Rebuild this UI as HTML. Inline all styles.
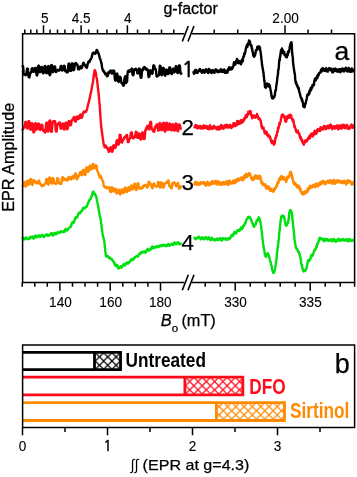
<!DOCTYPE html>
<html><head><meta charset="utf-8"><style>
html,body{margin:0;padding:0;background:#fff;width:357px;height:477px;overflow:hidden}
svg{display:block}
</style></head><body>
<svg width="357" height="477" viewBox="0 0 357 477">
<rect width="100%" height="100%" fill="#fff"/>
<g fill="none" stroke-linejoin="round" stroke-linecap="round">
<path d="M22.6,66.3 L22.9,65.9 L23.1,66.7 L23.4,69.3 L23.6,72.2 L23.9,74.6 L24.1,74.1 L24.4,74.3 L24.6,74.0 L24.9,74.4 L25.1,74.2 L25.4,74.7 L25.6,75.2 L25.9,75.0 L26.1,74.6 L26.4,74.8 L26.6,71.7 L26.9,69.8 L27.1,68.8 L27.4,69.4 L27.6,68.9 L27.9,68.7 L28.1,71.4 L28.4,74.7 L28.6,76.8 L28.9,77.1 L29.1,77.0 L29.4,77.5 L29.6,76.7 L29.9,74.9 L30.1,73.2 L30.4,73.3 L30.6,73.3 L30.9,72.4 L31.1,72.3 L31.4,70.9 L31.6,68.9 L31.9,68.6 L32.1,68.2 L32.4,68.2 L32.6,68.2 L32.9,68.9 L33.1,70.9 L33.4,71.9 L33.6,71.9 L33.9,71.3 L34.1,71.7 L34.4,71.6 L34.6,69.7 L34.9,68.6 L35.1,67.9 L35.4,67.9 L35.6,68.0 L35.9,68.2 L36.1,70.6 L36.4,73.7 L36.6,75.0 L36.9,74.7 L37.1,75.5 L37.4,74.7 L37.6,73.0 L37.9,70.3 L38.1,66.5 L38.4,65.8 L38.6,65.6 L38.9,65.9 L39.1,66.0 L39.4,68.8 L39.6,70.6 L39.9,71.4 L40.1,72.2 L40.4,71.9 L40.6,71.4 L40.9,70.3 L41.1,69.0 L41.4,67.2 L41.6,67.7 L41.9,67.7 L42.1,67.1 L42.4,68.5 L42.6,70.7 L42.9,73.0 L43.1,73.3 L43.4,73.3 L43.6,72.8 L43.9,72.6 L44.1,70.3 L44.4,68.5 L44.6,66.3 L44.9,66.6 L45.1,66.0 L45.4,66.4 L45.6,67.0 L45.9,69.9 L46.1,72.7 L46.4,73.2 L46.6,73.2 L46.9,73.1 L47.1,72.8 L47.4,70.4 L47.6,68.2 L47.9,66.4 L48.1,66.8 L48.4,66.0 L48.6,66.4 L48.9,68.8 L49.1,72.1 L49.4,74.6 L49.6,74.7 L49.9,75.3 L50.1,74.9 L50.4,73.9 L50.6,69.8 L50.9,66.2 L51.1,65.4 L51.4,65.3 L51.6,66.1 L51.9,65.1 L52.1,67.8 L52.4,70.0 L52.6,72.3 L52.9,71.7 L53.1,71.7 L53.4,71.7 L53.6,70.8 L53.9,69.0 L54.1,67.1 L54.4,66.4 L54.6,66.3 L54.9,66.8 L55.1,66.9 L55.4,68.3 L55.6,71.0 L55.9,72.0 L56.1,71.3 L56.4,71.7 L56.6,71.2 L56.9,70.9 L57.1,70.6 L57.4,70.2 L57.6,70.1 L57.9,70.1 L58.1,69.7 L58.4,70.3 L58.6,69.9 L58.9,70.7 L59.1,70.3 L59.4,70.0 L59.6,69.9 L59.9,70.2 L60.1,68.8 L60.4,67.5 L60.6,66.4 L60.9,65.9 L61.1,66.7 L61.4,65.9 L61.6,67.4 L61.9,69.0 L62.1,70.6 L62.4,70.4 L62.6,69.9 L62.9,70.1 L63.1,70.0 L63.4,68.5 L63.6,66.6 L63.9,66.2 L64.1,65.7 L64.3,65.8 L64.6,66.0 L64.8,67.2 L65.1,68.8 L65.3,71.3 L65.6,71.0 L65.8,71.1 L66.1,70.6 L66.3,71.3 L66.6,71.7 L66.8,72.5 L67.1,71.8 L67.3,72.0 L67.6,71.9 L67.8,72.1 L68.1,68.9 L68.3,65.5 L68.6,63.7 L68.8,63.9 L69.1,63.6 L69.3,64.2 L69.6,65.0 L69.8,67.7 L70.1,70.9 L70.3,70.8 L70.6,70.5 L70.8,70.5 L71.1,70.9 L71.3,68.2 L71.6,65.2 L71.8,63.5 L72.1,64.0 L72.3,63.5 L72.6,63.6 L72.8,65.4 L73.1,67.6 L73.3,69.6 L73.6,70.2 L73.8,69.3 L74.1,69.8 L74.3,68.5 L74.6,66.0 L74.8,63.7 L75.1,63.8 L75.3,63.6 L75.6,63.8 L75.8,63.0 L76.1,63.9 L76.3,64.0 L76.6,64.2 L76.8,64.6 L77.1,64.2 L77.3,64.5 L77.6,65.2 L77.8,67.3 L78.1,69.3 L78.3,69.1 L78.6,69.3 L78.8,69.4 L79.1,69.4 L79.3,68.6 L79.6,67.4 L79.8,66.8 L80.1,67.2 L80.3,66.4 L80.6,66.2 L80.8,67.0 L81.1,67.4 L81.3,68.4 L81.6,68.1 L81.8,67.3 L82.1,67.5 L82.3,66.7 L82.6,65.2 L82.8,64.4 L83.1,63.8 L83.3,63.0 L83.6,62.8 L83.8,63.5 L84.1,63.3 L84.3,64.7 L84.6,64.8 L84.8,65.0 L85.1,65.4 L85.3,66.0 L85.6,65.5 L85.8,66.2 L86.1,67.3 L86.3,67.1 L86.6,67.1 L86.8,67.8 L87.1,67.0 L87.3,65.9 L87.6,64.6 L87.8,63.4 L88.1,62.8 L88.3,62.2 L88.6,61.7 L88.8,61.2 L89.1,61.8 L89.3,62.2 L89.6,61.7 L89.8,61.1 L90.1,60.6 L90.3,59.4 L90.6,59.4 L90.8,59.2 L91.1,59.1 L91.3,58.1 L91.6,57.4 L91.8,56.6 L92.1,55.7 L92.3,54.9 L92.6,53.2 L92.8,53.1 L93.1,52.9 L93.3,52.7 L93.6,52.5 L93.8,53.2 L94.1,52.8 L94.3,53.1 L94.6,53.2 L94.8,53.5 L95.1,53.9 L95.3,53.2 L95.6,53.6 L95.8,53.1 L96.1,52.2 L96.3,50.9 L96.6,50.1 L96.8,50.4 L97.1,50.1 L97.3,51.1 L97.6,51.3 L97.8,52.2 L98.1,52.4 L98.3,52.8 L98.6,53.7 L98.8,54.4 L99.1,55.5 L99.3,56.0 L99.6,57.3 L99.8,58.3 L100.1,59.2 L100.3,59.4 L100.6,59.7 L100.8,60.8 L101.1,61.8 L101.3,63.0 L101.6,63.6 L101.8,65.6 L102.1,67.5 L102.3,68.4 L102.6,69.4 L102.8,70.1 L103.1,70.8 L103.3,71.1 L103.6,70.6 L103.8,71.3 L104.1,72.2 L104.3,72.1 L104.6,72.3 L104.8,73.3 L105.1,73.8 L105.3,74.3 L105.6,73.2 L105.8,73.9 L106.1,73.9 L106.3,74.0 L106.6,74.9 L106.8,76.0 L107.1,76.3 L107.3,76.0 L107.6,76.1 L107.8,75.8 L108.1,74.2 L108.3,72.5 L108.6,72.4 L108.8,72.4 L109.1,72.0 L109.3,73.0 L109.6,72.3 L109.8,71.8 L110.1,70.7 L110.3,70.6 L110.6,70.7 L110.8,70.6 L111.1,70.7 L111.3,71.6 L111.6,72.4 L111.8,73.6 L112.1,73.3 L112.3,72.9 L112.6,73.3 L112.8,72.7 L113.1,71.6 L113.3,70.4 L113.6,70.7 L113.8,71.2 L114.1,70.8 L114.3,71.9 L114.6,75.9 L114.8,78.7 L115.1,80.3 L115.3,80.1 L115.6,80.6 L115.8,80.3 L116.1,78.0 L116.3,75.0 L116.6,73.6 L116.8,73.8 L117.1,73.6 L117.3,74.1 L117.6,75.3 L117.8,78.3 L118.1,81.3 L118.3,81.0 L118.6,81.9 L118.8,81.4 L119.1,81.5 L119.3,79.3 L119.6,78.0 L119.8,76.7 L120.1,77.3 L120.3,77.0 L120.6,77.3 L120.8,78.8 L121.1,80.7 L121.3,82.3 L121.6,83.1 L121.8,83.4 L122.1,82.8 L122.3,83.0 L122.6,84.2 L122.8,84.9 L123.1,85.6 L123.3,85.2 L123.6,85.3 L123.8,85.4 L124.1,82.8 L124.3,80.0 L124.6,78.0 L124.8,77.3 L125.1,77.0 L125.3,76.2 L125.6,77.3 L125.8,80.2 L126.1,83.0 L126.3,82.5 L126.6,81.8 L126.8,81.8 L127.1,81.8 L127.3,77.2 L127.6,73.3 L127.8,71.3 L128.1,71.4 L128.3,71.3 L128.6,70.5 L128.8,71.1 L129.1,71.5 L129.3,71.8 L129.6,71.7 L129.8,71.7 L130.1,70.9 L130.3,70.8 L130.6,69.7 L130.8,69.4 L131.1,69.4 L131.3,69.4 L131.6,68.8 L131.8,68.6 L132.1,71.0 L132.3,73.2 L132.6,74.6 L132.8,75.0 L133.1,75.2 L133.3,75.3 L133.6,74.4 L133.8,71.8 L134.1,69.6 L134.3,69.3 L134.6,69.6 L134.8,70.0 L135.1,69.4 L135.3,69.8 L135.6,69.4 L135.8,68.7 L136.1,69.2 L136.3,69.3 L136.6,69.4 L136.8,69.7 L137.1,71.9 L137.3,73.2 L137.6,72.7 L137.8,72.7 L138.1,73.4 L138.3,72.3 L138.6,70.7 L138.8,69.6 L139.1,68.6 L139.3,68.9 L139.6,68.8 L139.8,68.9 L140.1,71.9 L140.3,75.3 L140.6,77.3 L140.8,77.8 L141.1,77.7 L141.3,77.8 L141.6,75.9 L141.8,73.2 L142.1,69.9 L142.3,69.5 L142.6,69.9 L142.8,70.2 L143.1,69.9 L143.3,68.5 L143.6,67.6 L143.8,67.7 L144.1,67.6 L144.3,67.7 L144.6,67.0 L144.8,68.1 L145.1,68.2 L145.3,68.6 L145.6,68.6 L145.8,69.3 L146.1,69.2 L146.3,68.5 L146.6,69.1 L146.8,69.9 L147.1,69.4 L147.3,69.4 L147.6,69.4 L147.8,70.2 L148.1,72.0 L148.3,74.7 L148.6,77.0 L148.8,76.5 L149.1,76.9 L149.3,76.6 L149.6,75.3 L149.8,73.1 L150.1,70.5 L150.3,70.2 L150.6,71.0 L150.8,71.0 L151.1,70.6 L151.3,72.1 L151.6,73.4 L151.8,73.5 L152.1,73.9 L152.3,73.9 L152.6,73.2 L152.8,71.1 L153.1,68.6 L153.3,65.8 L153.6,65.3 L153.8,65.9 L154.1,65.9 L154.3,65.8 L154.6,67.2 L154.8,68.4 L155.1,69.1 L155.3,68.8 L155.6,69.2 L155.8,69.3 L156.1,71.6 L156.3,73.8 L156.6,76.3 L156.8,76.4 L157.1,75.8 L157.3,76.2 L157.6,76.2 L157.8,75.1 L158.1,75.3 L158.3,75.3 L158.6,75.1 L158.8,75.2 L159.1,74.3 L159.3,71.4 L159.6,68.3 L159.8,65.8 L160.1,66.5 L160.3,65.9 L160.6,66.5 L160.8,68.6 L161.1,72.2 L161.3,74.8 L161.6,74.8 L161.8,75.3 L162.1,74.4 L162.3,73.8 L162.6,72.0 L162.8,69.4 L163.1,67.9 L163.3,68.7 L163.6,68.0 L163.8,68.6 L164.1,71.1 L164.3,73.0 L164.6,74.9 L164.8,75.2 L165.1,75.8 L165.3,75.6 L165.6,74.2 L165.8,72.5 L166.1,69.8 L166.3,69.6 L166.6,69.4 L166.8,70.2 L167.1,70.2 L167.3,71.4 L167.6,72.7 L167.8,74.1 L168.1,73.5 L168.3,73.3 L168.6,73.6 L168.8,72.3 L169.1,70.1 L169.3,67.5 L169.6,68.3 L169.8,68.0 L170.1,67.4 L170.3,68.8 L170.6,71.2 L170.8,73.4 L171.1,73.2 L171.3,73.6 L171.6,73.7 L171.8,74.0 L172.1,72.0 L172.3,69.8 L172.6,69.4 L172.8,69.4 L173.1,68.9 L173.3,68.5 L173.6,69.9 L173.8,71.1 L174.1,72.6 L174.3,71.7 L174.6,72.2 L174.8,72.0 L175.1,71.6 L175.3,70.1 L175.6,67.5 L175.8,66.1 L176.1,66.2 L176.3,66.9 L176.6,66.6 L176.8,68.0 L177.1,70.9 L177.3,72.6 L177.6,73.1 L177.8,73.1 L178.1,72.4 L178.3,72.1 L178.6,69.3 L178.8,66.3 L179.1,65.4 L179.3,65.6 L179.6,65.5 L179.8,65.6 L180.1,68.1 L180.3,71.1 L180.6,73.6 L180.8,73.7 L181.1,73.5 L181.3,73.5" stroke="#000" stroke-width="2.4"/>
<path d="M193.5,72.7 L193.8,71.7 L194.0,73.8 L194.2,71.5 L194.5,72.2 L194.8,72.2 L195.0,70.8 L195.2,70.0 L195.5,72.7 L195.8,72.7 L196.0,70.2 L196.2,69.9 L196.5,70.7 L196.8,71.2 L197.0,72.4 L197.2,72.5 L197.5,72.9 L197.8,71.1 L198.0,72.3 L198.2,71.8 L198.5,71.2 L198.8,70.7 L199.0,70.5 L199.2,70.4 L199.5,69.2 L199.8,69.4 L200.0,69.1 L200.2,70.8 L200.5,70.6 L200.8,70.3 L201.0,71.6 L201.2,71.3 L201.5,72.0 L201.8,72.8 L202.0,71.1 L202.2,71.7 L202.5,70.2 L202.8,72.3 L203.0,71.3 L203.2,70.0 L203.5,70.2 L203.8,70.2 L204.0,70.6 L204.2,71.3 L204.5,72.9 L204.8,71.8 L205.0,71.2 L205.2,71.5 L205.5,70.5 L205.8,71.4 L206.0,69.2 L206.2,69.9 L206.5,70.0 L206.8,69.6 L207.0,71.8 L207.2,70.9 L207.5,71.7 L207.8,71.0 L208.0,73.1 L208.2,71.9 L208.5,72.4 L208.8,70.3 L209.0,69.0 L209.2,69.8 L209.5,71.2 L209.8,71.3 L210.0,69.9 L210.2,72.2 L210.5,70.5 L210.8,72.3 L211.0,71.5 L211.2,72.0 L211.5,71.4 L211.8,73.1 L212.0,70.9 L212.2,72.4 L212.5,69.9 L212.8,70.8 L213.0,70.9 L213.2,71.8 L213.5,71.2 L213.8,72.1 L214.0,71.0 L214.2,71.7 L214.5,72.9 L214.8,71.1 L215.0,71.5 L215.2,70.1 L215.5,69.4 L215.8,69.3 L216.0,71.3 L216.2,70.9 L216.5,70.1 L216.8,70.3 L217.0,71.5 L217.2,71.1 L217.5,72.1 L217.8,72.1 L218.0,70.8 L218.2,71.5 L218.5,71.4 L218.8,70.8 L219.0,71.2 L219.2,72.0 L219.5,71.5 L219.8,71.4 L220.0,70.5 L220.2,71.5 L220.5,71.0 L220.8,69.1 L221.0,71.1 L221.2,71.5 L221.5,71.7 L221.8,70.8 L222.0,71.0 L222.2,70.6 L222.5,70.0 L222.8,71.3 L223.0,72.0 L223.2,71.3 L223.5,70.7 L223.8,71.3 L224.0,70.7 L224.2,69.4 L224.5,71.4 L224.8,70.7 L225.0,72.8 L225.2,71.2 L225.5,70.5 L225.8,72.4 L226.0,70.6 L226.2,72.9 L226.5,71.6 L226.8,72.7 L227.0,70.6 L227.2,72.1 L227.5,72.5 L227.8,70.3 L228.0,70.9 L228.2,68.7 L228.5,68.8 L228.8,68.5 L229.0,68.9 L229.2,67.2 L229.5,67.6 L229.8,69.7 L230.0,69.6 L230.2,68.7 L230.5,68.1 L230.8,69.3 L231.0,68.5 L231.2,67.8 L231.5,69.4 L231.8,67.4 L232.0,69.1 L232.2,68.5 L232.5,68.2 L232.8,67.5 L233.0,66.7 L233.2,66.4 L233.5,65.8 L233.8,63.2 L234.0,62.3 L234.2,64.8 L234.5,63.1 L234.8,63.1 L235.0,64.5 L235.2,64.7 L235.5,64.1 L235.8,62.3 L236.0,61.0 L236.2,62.1 L236.5,61.2 L236.8,60.8 L237.0,59.0 L237.2,59.7 L237.5,59.7 L237.8,63.0 L238.0,61.2 L238.2,61.2 L238.5,62.5 L238.8,61.5 L239.0,62.3 L239.2,63.2 L239.5,62.7 L239.8,61.0 L240.0,63.2 L240.2,61.9 L240.5,62.5 L240.8,62.1 L241.0,64.3 L241.2,62.1 L241.5,62.9 L241.8,61.8 L242.0,61.3 L242.2,59.3 L242.5,60.3 L242.8,61.3 L243.0,59.3 L243.2,57.5 L243.5,56.4 L243.8,56.3 L244.0,56.6 L244.2,53.6 L244.5,52.9 L244.8,54.0 L245.0,53.9 L245.2,51.7 L245.5,51.1 L245.8,48.7 L246.0,47.8 L246.2,47.6 L246.5,46.1 L246.8,46.1 L247.0,45.0 L247.2,47.1 L247.5,45.9 L247.8,43.6 L248.0,43.4 L248.2,44.7 L248.5,42.8 L248.8,41.8 L249.0,40.5 L249.2,42.3 L249.5,42.0 L249.8,43.0 L250.0,41.4 L250.2,43.8 L250.5,44.8 L250.8,45.5 L251.0,45.9 L251.2,45.7 L251.5,45.5 L251.8,48.6 L252.0,48.2 L252.2,49.8 L252.5,51.8 L252.8,51.8 L253.0,53.7 L253.2,55.6 L253.5,53.8 L253.8,55.8 L254.0,56.8 L254.2,54.3 L254.5,55.4 L254.8,55.9 L255.0,55.3 L255.2,53.1 L255.5,53.7 L255.8,51.4 L256.0,49.9 L256.2,50.2 L256.5,49.9 L256.8,50.2 L257.0,49.3 L257.2,47.0 L257.5,48.1 L257.8,47.2 L258.0,48.3 L258.2,46.4 L258.5,48.3 L258.8,48.8 L259.0,46.5 L259.2,46.4 L259.5,49.1 L259.8,49.1 L260.0,47.4 L260.2,50.8 L260.5,51.1 L260.8,53.4 L261.0,55.1 L261.2,56.5 L261.5,60.2 L261.8,61.5 L262.0,64.3 L262.2,65.1 L262.5,67.9 L262.8,68.5 L263.0,70.0 L263.2,72.0 L263.5,72.3 L263.8,76.8 L264.0,76.8 L264.2,81.0 L264.5,80.5 L264.8,85.0 L265.0,87.2 L265.2,87.2 L265.5,85.8 L265.8,87.8 L266.0,86.1 L266.2,85.3 L266.5,85.7 L266.8,86.1 L267.0,83.4 L267.2,84.4 L267.5,85.0 L267.8,84.0 L268.0,86.4 L268.2,85.7 L268.5,84.1 L268.8,84.3 L269.0,84.3 L269.2,85.4 L269.5,87.1 L269.8,85.4 L270.0,86.6 L270.2,88.0 L270.5,90.1 L270.8,90.8 L271.0,92.3 L271.2,93.1 L271.5,96.5 L271.8,96.4 L272.0,98.2 L272.2,96.2 L272.5,97.7 L272.8,97.3 L273.0,98.6 L273.2,98.3 L273.5,97.8 L273.8,96.5 L274.0,97.5 L274.2,97.3 L274.5,96.0 L274.8,95.6 L275.0,93.6 L275.2,91.7 L275.5,90.2 L275.8,90.5 L276.0,88.9 L276.2,86.5 L276.5,85.1 L276.8,82.3 L277.0,81.5 L277.2,79.2 L277.5,76.3 L277.8,75.6 L278.0,73.6 L278.2,69.9 L278.5,69.8 L278.8,67.3 L279.0,63.5 L279.2,61.7 L279.5,59.2 L279.8,60.1 L280.0,56.2 L280.2,56.8 L280.5,54.5 L280.8,51.6 L281.0,50.6 L281.2,50.0 L281.5,50.9 L281.8,49.3 L282.0,48.5 L282.2,51.5 L282.5,50.9 L282.8,50.2 L283.0,53.4 L283.2,53.0 L283.5,52.7 L283.8,52.1 L284.0,53.8 L284.2,52.0 L284.5,54.8 L284.8,54.5 L285.0,54.6 L285.2,55.2 L285.5,56.1 L285.8,55.6 L286.0,57.0 L286.2,55.1 L286.5,57.1 L286.8,57.3 L287.0,55.1 L287.2,54.0 L287.5,55.6 L287.8,54.9 L288.0,51.9 L288.2,52.6 L288.5,51.0 L288.8,50.7 L289.0,52.2 L289.2,50.0 L289.5,49.0 L289.8,46.4 L290.0,47.0 L290.2,45.6 L290.5,43.6 L290.8,43.5 L291.0,42.5 L291.2,43.5 L291.5,42.4 L291.8,45.2 L292.0,49.9 L292.2,53.2 L292.5,56.1 L292.8,57.2 L293.0,61.8 L293.2,63.5 L293.5,66.2 L293.8,67.7 L294.0,69.8 L294.2,70.6 L294.5,73.3 L294.8,73.3 L295.0,75.3 L295.2,79.6 L295.5,81.0 L295.8,83.1 L296.0,82.0 L296.2,83.1 L296.5,84.5 L296.8,84.6 L297.0,85.9 L297.2,84.9 L297.5,86.6 L297.8,87.2 L298.0,88.1 L298.2,87.1 L298.5,89.2 L298.8,88.2 L299.0,90.1 L299.2,92.2 L299.5,92.1 L299.8,93.1 L300.0,93.7 L300.2,95.3 L300.5,96.1 L300.8,97.6 L301.0,98.0 L301.2,98.0 L301.5,98.0 L301.8,100.7 L302.0,100.2 L302.2,99.7 L302.5,101.1 L302.8,102.9 L303.0,103.1 L303.2,106.4 L303.5,106.3 L303.8,107.0 L304.0,107.0 L304.2,105.4 L304.5,107.3 L304.8,106.4 L305.0,103.7 L305.2,104.5 L305.5,103.9 L305.8,102.6 L306.0,102.0 L306.2,100.4 L306.5,100.1 L306.8,98.2 L307.0,96.1 L307.2,95.5 L307.5,94.4 L307.8,95.5 L308.0,95.2 L308.2,94.7 L308.5,94.7 L308.8,94.5 L309.0,92.8 L309.2,91.7 L309.5,93.5 L309.8,90.2 L310.0,89.7 L310.2,90.6 L310.5,90.9 L310.8,87.7 L311.0,88.5 L311.2,89.9 L311.5,87.4 L311.8,87.3 L312.0,87.7 L312.2,87.8 L312.5,85.0 L312.8,85.4 L313.0,85.3 L313.2,84.7 L313.5,84.3 L313.8,85.2 L314.0,84.7 L314.2,81.3 L314.5,80.3 L314.8,80.0 L315.0,78.7 L315.2,78.4 L315.5,79.3 L315.8,80.4 L316.0,78.4 L316.2,78.1 L316.5,79.0 L316.8,77.6 L317.0,76.3 L317.2,76.1 L317.5,77.8 L317.8,74.8 L318.0,76.0 L318.2,74.9 L318.5,75.5 L318.8,74.3 L319.0,73.3 L319.2,73.1 L319.5,72.9 L319.8,72.6 L320.0,72.3 L320.2,72.2 L320.5,72.6 L320.8,71.7 L321.0,69.6 L321.2,70.4 L321.5,71.6 L321.8,71.4 L322.0,69.3 L322.2,68.6 L322.5,68.8 L322.8,68.1 L323.0,68.4 L323.2,70.3 L323.5,70.1 L323.8,69.1 L324.0,69.9 L324.2,70.8 L324.5,70.8 L324.8,70.8 L325.0,70.9 L325.2,70.4 L325.5,68.6 L325.8,69.9 L326.0,69.7 L326.2,68.2 L326.5,68.4 L326.8,69.7 L327.0,69.6 L327.2,71.6 L327.5,70.4 L327.8,71.6 L328.0,71.5 L328.2,70.0 L328.5,70.1 L328.8,69.6 L329.0,68.8 L329.2,68.1 L329.5,68.5 L329.8,69.4 L330.0,68.5 L330.2,69.9 L330.5,69.5 L330.8,69.7 L331.0,69.0 L331.2,70.7 L331.5,68.6 L331.8,71.5 L332.0,70.9 L332.2,72.4 L332.5,71.2 L332.8,70.6 L333.0,70.6 L333.2,72.2 L333.5,70.5 L333.8,69.6 L334.0,68.8 L334.2,68.7 L334.5,69.5 L334.8,69.6 L335.0,70.7 L335.2,68.7 L335.5,69.7 L335.8,68.8 L336.0,69.1 L336.2,69.8 L336.5,71.2 L336.8,69.4 L337.0,69.9 L337.2,71.5 L337.5,71.0 L337.8,69.7 L338.0,71.4 L338.2,71.8 L338.5,70.7 L338.8,71.3 L339.0,70.5 L339.2,69.3 L339.5,70.7 L339.8,70.3 L340.0,69.2 L340.2,70.4 L340.5,72.2 L340.8,71.3 L341.0,70.4 L341.2,71.3 L341.5,70.7 L341.8,68.7 L342.0,69.5 L342.2,70.5 L342.5,68.4 L342.8,69.7 L343.0,68.8 L343.2,69.7 L343.5,71.4 L343.8,70.2 L344.0,71.6 L344.2,71.3 L344.5,70.7 L344.8,68.6 L345.0,68.9 L345.2,70.1 L345.5,69.4 L345.8,67.7 L346.0,69.1 L346.2,69.5 L346.5,70.1 L346.8,70.1 L347.0,71.3 L347.2,70.5 L347.5,71.5 L347.8,71.5 L348.0,70.9 L348.2,70.2 L348.5,68.0 L348.8,67.9 L349.0,68.4 L349.2,69.6 L349.5,69.3 L349.8,69.3 L350.0,71.8 L350.2,70.3 L350.5,69.6 L350.8,70.5 L351.0,71.7 L351.2,70.6 L351.5,70.9 L351.8,68.5 L352.0,70.4 L352.2,69.2 L352.5,69.4 L352.8,70.1 L353.0,70.5 L353.2,71.5 L353.5,70.0 L353.8,70.5 L354.0,70.4" stroke="#000" stroke-width="2.4"/>
<path d="M22.6,129.5 L22.9,129.3 L23.1,129.2 L23.4,128.2 L23.6,127.3 L23.9,127.3 L24.1,126.7 L24.4,127.5 L24.6,127.5 L24.9,126.3 L25.1,123.6 L25.4,121.9 L25.6,122.7 L25.9,122.2 L26.1,122.1 L26.4,122.9 L26.6,125.4 L26.9,127.3 L27.1,128.2 L27.4,128.4 L27.6,128.5 L27.9,127.8 L28.1,126.2 L28.4,123.0 L28.6,121.2 L28.9,121.3 L29.1,121.1 L29.4,121.7 L29.6,122.5 L29.9,126.0 L30.1,128.8 L30.4,129.5 L30.6,129.7 L30.9,129.7 L31.1,128.8 L31.4,127.0 L31.6,124.9 L31.9,123.1 L32.1,123.3 L32.4,123.6 L32.6,123.7 L32.9,125.7 L33.1,129.3 L33.4,132.4 L33.6,132.1 L33.9,132.4 L34.1,132.3 L34.4,131.5 L34.6,127.8 L34.9,124.2 L35.1,123.4 L35.4,123.9 L35.6,123.1 L35.9,123.1 L36.1,124.9 L36.4,128.0 L36.6,129.7 L36.9,128.9 L37.1,129.0 L37.4,128.9 L37.6,128.3 L37.9,126.0 L38.1,124.2 L38.4,123.5 L38.6,124.1 L38.9,123.7 L39.1,124.3 L39.4,126.6 L39.6,129.2 L39.9,129.9 L40.1,130.0 L40.4,129.9 L40.6,129.6 L40.9,128.6 L41.1,127.2 L41.4,125.6 L41.6,124.7 L41.9,125.3 L42.1,125.0 L42.4,125.3 L42.6,127.3 L42.9,130.0 L43.1,130.7 L43.4,130.2 L43.6,130.1 L43.9,130.2 L44.1,131.2 L44.4,131.9 L44.6,131.7 L44.9,131.9 L45.1,132.5 L45.4,132.1 L45.6,130.5 L45.9,127.0 L46.1,123.2 L46.4,123.0 L46.6,122.8 L46.9,122.5 L47.1,122.7 L47.4,126.8 L47.6,129.1 L47.9,131.4 L48.1,131.6 L48.4,130.9 L48.6,130.7 L48.9,128.3 L49.1,124.2 L49.4,120.8 L49.6,120.7 L49.9,121.3 L50.1,120.4 L50.4,122.4 L50.6,125.8 L50.9,130.9 L51.1,131.5 L51.4,131.8 L51.6,131.1 L51.9,131.5 L52.1,128.4 L52.4,124.6 L52.6,122.2 L52.9,121.5 L53.1,121.8 L53.4,122.0 L53.6,121.3 L53.9,122.0 L54.1,121.4 L54.4,121.2 L54.6,121.2 L54.9,121.6 L55.1,121.3 L55.4,125.4 L55.6,129.2 L55.9,131.0 L56.1,131.5 L56.4,131.3 L56.6,131.6 L56.9,129.5 L57.1,126.4 L57.4,124.0 L57.6,123.8 L57.9,123.9 L58.1,124.2 L58.4,124.2 L58.6,123.3 L58.9,122.9 L59.1,123.2 L59.4,123.4 L59.6,122.5 L59.9,122.4 L60.1,125.1 L60.4,127.0 L60.6,128.4 L60.9,128.6 L61.1,128.7 L61.4,127.9 L61.6,128.0 L61.9,126.2 L62.1,123.8 L62.4,123.7 L62.6,123.5 L62.9,123.8 L63.1,123.6 L63.4,126.0 L63.6,128.6 L63.9,129.2 L64.1,129.5 L64.3,128.8 L64.6,129.5 L64.8,127.1 L65.1,124.9 L65.3,123.4 L65.6,122.9 L65.8,122.7 L66.1,122.6 L66.3,123.9 L66.6,125.5 L66.8,127.8 L67.1,129.3 L67.3,129.1 L67.6,128.6 L67.8,128.3 L68.1,126.4 L68.3,123.4 L68.6,121.3 L68.8,121.1 L69.1,121.0 L69.3,121.3 L69.6,121.7 L69.8,123.0 L70.1,124.7 L70.3,125.3 L70.6,125.3 L70.8,125.0 L71.1,124.9 L71.3,122.7 L71.6,121.1 L71.8,120.2 L72.1,120.1 L72.3,119.7 L72.6,119.9 L72.8,118.9 L73.1,118.5 L73.3,118.5 L73.6,117.7 L73.8,117.1 L74.1,117.2 L74.3,117.4 L74.6,118.7 L74.8,120.6 L75.1,121.5 L75.3,121.5 L75.6,121.2 L75.8,121.4 L76.1,119.9 L76.3,118.3 L76.6,116.6 L76.8,117.0 L77.1,116.4 L77.3,116.4 L77.6,116.7 L77.8,117.6 L78.1,119.1 L78.3,118.7 L78.6,118.8 L78.8,118.7 L79.1,118.3 L79.3,116.7 L79.6,115.4 L79.8,115.3 L80.1,114.7 L80.3,114.7 L80.6,114.5 L80.8,115.9 L81.1,117.2 L81.3,117.9 L81.6,117.8 L81.8,117.4 L82.1,117.3 L82.3,116.7 L82.6,115.0 L82.8,113.7 L83.1,113.2 L83.3,112.1 L83.6,112.3 L83.8,111.8 L84.1,112.1 L84.3,112.6 L84.6,112.4 L84.8,112.0 L85.1,111.3 L85.3,111.7 L85.6,111.4 L85.8,111.3 L86.1,111.8 L86.3,110.6 L86.6,110.3 L86.8,110.3 L87.1,108.9 L87.3,107.6 L87.6,106.6 L87.8,105.8 L88.1,104.9 L88.3,103.4 L88.6,102.7 L88.8,102.3 L89.1,101.1 L89.3,99.9 L89.6,98.4 L89.8,97.4 L90.1,96.7 L90.3,94.5 L90.6,94.0 L90.8,93.4 L91.1,92.1 L91.3,90.4 L91.6,89.6 L91.8,87.8 L92.1,86.7 L92.3,84.9 L92.6,84.1 L92.8,82.7 L93.1,81.0 L93.3,78.8 L93.6,77.3 L93.8,75.6 L94.1,73.2 L94.3,72.0 L94.6,70.6 L94.8,70.1 L95.1,70.8 L95.3,70.9 L95.6,72.6 L95.8,73.2 L96.1,74.8 L96.3,76.2 L96.6,77.7 L96.8,78.6 L97.1,80.2 L97.3,82.1 L97.6,84.5 L97.8,87.0 L98.1,89.0 L98.3,91.8 L98.6,93.5 L98.8,95.6 L99.1,98.7 L99.3,101.7 L99.6,104.7 L99.8,106.9 L100.1,111.0 L100.3,115.3 L100.6,118.5 L100.8,121.4 L101.1,124.6 L101.3,127.3 L101.6,128.9 L101.8,131.3 L102.1,132.8 L102.3,134.8 L102.6,136.9 L102.8,138.3 L103.1,140.4 L103.3,141.9 L103.6,143.4 L103.8,145.0 L104.1,145.3 L104.3,145.7 L104.6,147.2 L104.8,146.2 L105.1,145.6 L105.3,145.4 L105.6,145.4 L105.8,146.6 L106.1,146.2 L106.3,146.6 L106.6,147.8 L106.8,147.7 L107.1,148.5 L107.3,148.7 L107.6,148.8 L107.8,148.1 L108.1,149.8 L108.3,150.3 L108.6,151.1 L108.8,151.8 L109.1,151.1 L109.3,151.4 L109.6,150.5 L109.8,149.6 L110.1,148.1 L110.3,148.1 L110.6,147.3 L110.8,147.4 L111.1,147.3 L111.3,149.0 L111.6,150.9 L111.8,151.7 L112.1,151.8 L112.3,151.2 L112.6,151.2 L112.8,150.0 L113.1,147.7 L113.3,145.7 L113.6,145.3 L113.8,145.7 L114.1,145.4 L114.3,145.5 L114.6,146.7 L114.8,147.9 L115.1,147.5 L115.3,147.9 L115.6,147.1 L115.8,147.0 L116.1,144.4 L116.3,142.8 L116.6,140.6 L116.8,141.1 L117.1,140.5 L117.3,140.1 L117.6,141.0 L117.8,142.5 L118.1,144.7 L118.3,144.3 L118.6,144.4 L118.8,144.3 L119.1,143.7 L119.3,140.4 L119.6,136.5 L119.8,134.7 L120.1,134.9 L120.3,135.5 L120.6,135.1 L120.8,136.8 L121.1,139.5 L121.3,142.0 L121.6,142.2 L121.8,142.4 L122.1,142.5 L122.3,141.8 L122.6,141.2 L122.8,140.2 L123.1,139.9 L123.3,139.3 L123.6,139.4 L123.8,139.0 L124.1,138.7 L124.3,137.5 L124.6,137.4 L124.8,137.0 L125.1,137.3 L125.3,136.9 L125.6,136.4 L125.8,136.2 L126.1,135.5 L126.3,135.5 L126.6,135.0 L126.8,135.4 L127.1,135.3 L127.3,137.7 L127.6,140.7 L127.8,142.1 L128.1,141.7 L128.3,142.0 L128.6,142.0 L128.8,140.5 L129.1,139.5 L129.3,138.6 L129.6,138.8 L129.8,138.6 L130.1,138.5 L130.3,137.3 L130.6,135.3 L130.8,133.0 L131.1,132.9 L131.3,132.7 L131.6,132.2 L131.8,132.6 L132.1,133.9 L132.3,136.0 L132.6,137.9 L132.8,138.1 L133.1,138.4 L133.3,137.9 L133.6,137.5 L133.8,137.7 L134.1,136.9 L134.3,137.7 L134.6,137.2 L134.8,137.0 L135.1,137.0 L135.3,135.5 L135.6,133.5 L135.8,131.7 L136.1,132.6 L136.3,132.5 L136.6,132.0 L136.8,133.3 L137.1,135.6 L137.3,137.9 L137.6,137.7 L137.8,137.7 L138.1,137.8 L138.3,137.9 L138.6,135.4 L138.8,134.6 L139.1,133.6 L139.3,133.9 L139.6,133.6 L139.8,134.0 L140.1,135.3 L140.3,137.8 L140.6,139.6 L140.8,139.6 L141.1,139.3 L141.3,139.2 L141.6,137.7 L141.8,135.4 L142.1,133.0 L142.3,132.7 L142.6,132.2 L142.8,132.7 L143.1,132.8 L143.3,134.8 L143.6,137.1 L143.8,139.0 L144.1,139.0 L144.3,138.6 L144.6,138.7 L144.8,136.2 L145.1,133.4 L145.3,130.3 L145.6,130.4 L145.8,130.3 L146.1,128.7 L146.3,127.9 L146.6,127.3 L146.8,127.3 L147.1,126.7 L147.3,126.0 L147.6,126.0 L147.8,125.7 L148.1,126.9 L148.3,128.4 L148.6,129.3 L148.8,128.8 L149.1,128.7 L149.3,129.3 L149.6,127.5 L149.8,125.0 L150.1,122.5 L150.3,122.2 L150.6,121.8 L150.8,121.9 L151.1,122.0 L151.3,125.4 L151.6,128.4 L151.8,129.2 L152.1,129.4 L152.3,129.3 L152.6,129.7 L152.8,129.9 L153.1,131.1 L153.3,131.1 L153.6,131.5 L153.8,131.5 L154.1,131.8 L154.3,131.1 L154.6,129.8 L154.8,127.8 L155.1,126.8 L155.3,127.1 L155.6,127.5 L155.8,127.2 L156.1,126.5 L156.3,124.9 L156.6,124.7 L156.8,124.4 L157.1,125.0 L157.3,124.1 L157.6,125.6 L157.8,128.3 L158.1,130.3 L158.3,130.6 L158.6,130.5 L158.8,130.2 L159.1,130.2 L159.3,127.8 L159.6,124.8 L159.8,122.9 L160.1,123.3 L160.3,123.4 L160.6,123.4 L160.8,124.4 L161.1,127.1 L161.3,130.2 L161.6,129.5 L161.8,130.0 L162.1,129.9 L162.3,129.4 L162.6,126.1 L162.8,124.4 L163.1,123.6 L163.3,123.0 L163.6,123.4 L163.8,122.7 L164.1,126.3 L164.3,128.9 L164.6,131.3 L164.8,131.4 L165.1,130.6 L165.3,131.5 L165.6,129.2 L165.8,126.1 L166.1,123.4 L166.3,122.9 L166.6,123.3 L166.8,122.8 L167.1,123.5 L167.3,126.2 L167.6,128.9 L167.8,129.6 L168.1,129.5 L168.3,129.8 L168.6,129.8 L168.8,128.5 L169.1,125.8 L169.3,123.6 L169.6,123.5 L169.8,123.9 L170.1,123.8 L170.3,123.9 L170.6,126.7 L170.8,129.1 L171.1,130.2 L171.3,130.0 L171.6,129.8 L171.8,130.2 L172.1,128.4 L172.3,126.0 L172.6,125.0 L172.8,124.3 L173.1,124.3 L173.3,124.9 L173.6,125.8 L173.8,128.2 L174.1,130.5 L174.3,130.3 L174.6,130.6 L174.8,130.5 L175.1,130.1 L175.3,127.5 L175.6,125.4 L175.8,123.5 L176.1,123.6 L176.3,123.7 L176.6,123.9 L176.8,125.3 L177.1,128.7 L177.3,130.6 L177.6,130.9 L177.8,131.0 L178.1,131.2 L178.3,130.5 L178.6,128.0 L178.8,124.8 L179.1,124.4 L179.3,124.9 L179.6,124.6 L179.8,125.0 L180.1,125.9 L180.3,127.3 L180.6,128.4 L180.8,128.7" stroke="#ff0a1a" stroke-width="2.4"/>
<path d="M194.5,127.1 L194.8,126.4 L195.0,126.6 L195.2,127.3 L195.5,124.9 L195.8,127.2 L196.0,125.5 L196.2,127.1 L196.5,125.3 L196.8,126.4 L197.0,125.9 L197.2,128.3 L197.5,126.7 L197.8,127.3 L198.0,128.3 L198.2,126.9 L198.5,127.9 L198.8,126.2 L199.0,127.4 L199.2,126.9 L199.5,127.6 L199.8,126.7 L200.0,125.9 L200.2,127.1 L200.5,128.6 L200.8,128.6 L201.0,126.6 L201.2,126.6 L201.5,126.6 L201.8,127.8 L202.0,126.5 L202.2,128.1 L202.5,126.9 L202.8,128.5 L203.0,126.7 L203.2,128.4 L203.5,126.3 L203.8,125.3 L204.0,125.6 L204.2,127.6 L204.5,125.7 L204.8,125.9 L205.0,128.1 L205.2,126.3 L205.5,127.0 L205.8,126.7 L206.0,126.5 L206.2,127.9 L206.5,126.0 L206.8,127.6 L207.0,128.0 L207.2,128.7 L207.5,128.8 L207.8,126.7 L208.0,126.9 L208.2,127.3 L208.5,127.6 L208.8,128.9 L209.0,128.8 L209.2,129.4 L209.5,127.5 L209.8,126.8 L210.0,125.2 L210.2,127.4 L210.5,127.5 L210.8,127.6 L211.0,127.0 L211.2,128.1 L211.5,127.8 L211.8,129.0 L212.0,127.4 L212.2,128.7 L212.5,128.7 L212.8,128.1 L213.0,128.4 L213.2,127.6 L213.5,126.3 L213.8,125.7 L214.0,126.5 L214.2,126.1 L214.5,128.1 L214.8,126.9 L215.0,127.5 L215.2,128.1 L215.5,127.6 L215.8,127.9 L216.0,127.3 L216.2,128.3 L216.5,129.2 L216.8,127.6 L217.0,128.4 L217.2,129.2 L217.5,127.1 L217.8,126.7 L218.0,128.1 L218.2,129.3 L218.5,128.2 L218.8,127.3 L219.0,129.6 L219.2,127.9 L219.5,127.6 L219.8,126.4 L220.0,127.4 L220.2,129.1 L220.5,127.4 L220.8,128.1 L221.0,128.1 L221.2,125.0 L221.5,127.0 L221.8,125.4 L222.0,126.4 L222.2,127.7 L222.5,126.8 L222.8,128.5 L223.0,127.4 L223.2,128.3 L223.5,128.7 L223.8,128.1 L224.0,127.0 L224.2,127.6 L224.5,125.5 L224.8,126.0 L225.0,127.4 L225.2,126.5 L225.5,125.2 L225.8,126.8 L226.0,127.4 L226.2,125.1 L226.5,127.3 L226.8,124.6 L227.0,127.5 L227.2,127.0 L227.5,126.6 L227.8,126.6 L228.0,127.4 L228.2,127.4 L228.5,127.6 L228.8,127.2 L229.0,125.4 L229.2,125.4 L229.5,125.1 L229.8,127.1 L230.0,125.0 L230.2,126.7 L230.5,125.5 L230.8,127.7 L231.0,127.2 L231.2,127.3 L231.5,127.9 L231.8,126.5 L232.0,127.0 L232.2,127.0 L232.5,125.9 L232.8,125.3 L233.0,125.4 L233.2,125.8 L233.5,123.2 L233.8,126.2 L234.0,124.8 L234.2,125.9 L234.5,123.3 L234.8,123.8 L235.0,124.5 L235.2,124.8 L235.5,126.1 L235.8,124.3 L236.0,123.9 L236.2,125.1 L236.5,123.6 L236.8,125.2 L237.0,122.3 L237.2,120.9 L237.5,122.7 L237.8,121.4 L238.0,123.4 L238.2,121.1 L238.5,123.1 L238.8,124.1 L239.0,123.9 L239.2,122.5 L239.5,123.8 L239.8,122.5 L240.0,121.7 L240.2,123.6 L240.5,121.1 L240.8,120.4 L241.0,120.0 L241.2,122.4 L241.5,122.4 L241.8,122.3 L242.0,122.7 L242.2,120.9 L242.5,121.6 L242.8,121.8 L243.0,120.0 L243.2,121.3 L243.5,121.2 L243.8,120.1 L244.0,120.2 L244.2,118.1 L244.5,118.8 L244.8,118.1 L245.0,117.5 L245.2,118.5 L245.5,118.2 L245.8,115.2 L246.0,116.3 L246.2,114.9 L246.5,116.3 L246.8,117.2 L247.0,114.4 L247.2,114.8 L247.5,114.2 L247.8,115.0 L248.0,114.7 L248.2,111.8 L248.5,111.9 L248.8,112.1 L249.0,113.7 L249.2,113.1 L249.5,112.4 L249.8,113.0 L250.0,111.0 L250.2,112.5 L250.5,111.2 L250.8,111.8 L251.0,114.3 L251.2,115.1 L251.5,115.7 L251.8,115.1 L252.0,116.1 L252.2,118.4 L252.5,117.3 L252.8,116.0 L253.0,116.1 L253.2,116.7 L253.5,117.5 L253.8,116.2 L254.0,115.4 L254.2,117.1 L254.5,116.0 L254.8,116.3 L255.0,117.2 L255.2,116.8 L255.5,117.7 L255.8,116.3 L256.0,116.4 L256.2,115.4 L256.5,115.7 L256.8,116.3 L257.0,114.0 L257.2,116.5 L257.5,117.0 L257.8,116.2 L258.0,116.1 L258.2,117.8 L258.5,118.8 L258.8,117.8 L259.0,118.1 L259.2,118.3 L259.5,119.6 L259.8,118.8 L260.0,119.5 L260.2,119.7 L260.5,120.6 L260.8,121.2 L261.0,123.0 L261.2,123.4 L261.5,127.0 L261.8,125.4 L262.0,128.2 L262.2,128.2 L262.5,128.5 L262.8,127.6 L263.0,128.0 L263.2,127.8 L263.5,127.4 L263.8,129.4 L264.0,130.3 L264.2,130.3 L264.5,132.8 L264.8,133.2 L265.0,131.9 L265.2,132.5 L265.5,131.9 L265.8,133.2 L266.0,131.4 L266.2,132.1 L266.5,134.3 L266.8,132.2 L267.0,134.8 L267.2,134.3 L267.5,133.7 L267.8,135.9 L268.0,135.6 L268.2,136.6 L268.5,135.8 L268.8,135.8 L269.0,135.4 L269.2,135.6 L269.5,137.2 L269.8,137.2 L270.0,136.6 L270.2,137.5 L270.5,139.5 L270.8,139.3 L271.0,139.7 L271.2,142.0 L271.5,140.6 L271.8,142.0 L272.0,143.4 L272.2,140.7 L272.5,141.5 L272.8,141.2 L273.0,143.2 L273.2,142.5 L273.5,141.5 L273.8,144.0 L274.0,144.7 L274.2,143.9 L274.5,141.6 L274.8,143.2 L275.0,141.5 L275.2,139.6 L275.5,137.6 L275.8,138.0 L276.0,136.0 L276.2,135.4 L276.5,136.2 L276.8,135.3 L277.0,133.6 L277.2,131.8 L277.5,132.0 L277.8,131.2 L278.0,127.8 L278.2,129.0 L278.5,128.4 L278.8,127.0 L279.0,125.6 L279.2,125.7 L279.5,122.6 L279.8,124.3 L280.0,122.7 L280.2,122.3 L280.5,121.8 L280.8,120.2 L281.0,118.7 L281.2,117.7 L281.5,116.4 L281.8,114.9 L282.0,116.5 L282.2,116.6 L282.5,115.7 L282.8,114.4 L283.0,114.6 L283.2,116.5 L283.5,116.0 L283.8,116.1 L284.0,117.3 L284.2,116.1 L284.5,116.1 L284.8,117.7 L285.0,119.9 L285.2,121.1 L285.5,119.5 L285.8,121.7 L286.0,120.0 L286.2,121.5 L286.5,119.0 L286.8,118.2 L287.0,119.1 L287.2,116.5 L287.5,117.1 L287.8,115.9 L288.0,117.8 L288.2,117.3 L288.5,116.0 L288.8,117.9 L289.0,116.8 L289.2,115.2 L289.5,115.5 L289.8,117.0 L290.0,117.4 L290.2,114.6 L290.5,116.2 L290.8,115.3 L291.0,117.1 L291.2,115.5 L291.5,118.2 L291.8,118.2 L292.0,119.1 L292.2,119.3 L292.5,120.5 L292.8,121.3 L293.0,119.4 L293.2,120.6 L293.5,121.1 L293.8,122.8 L294.0,124.2 L294.2,124.7 L294.5,127.2 L294.8,126.1 L295.0,127.4 L295.2,128.0 L295.5,128.4 L295.8,130.4 L296.0,131.1 L296.2,130.6 L296.5,132.1 L296.8,131.4 L297.0,132.4 L297.2,131.1 L297.5,132.0 L297.8,130.7 L298.0,132.4 L298.2,132.4 L298.5,133.4 L298.8,133.8 L299.0,133.3 L299.2,133.2 L299.5,134.9 L299.8,136.7 L300.0,137.3 L300.2,137.9 L300.5,136.6 L300.8,137.2 L301.0,139.5 L301.2,138.1 L301.5,139.9 L301.8,140.1 L302.0,141.7 L302.2,139.9 L302.5,142.4 L302.8,141.8 L303.0,143.3 L303.2,142.2 L303.5,144.0 L303.8,144.7 L304.0,144.0 L304.2,143.5 L304.5,142.5 L304.8,142.1 L305.0,142.3 L305.2,140.5 L305.5,142.1 L305.8,140.6 L306.0,141.7 L306.2,141.4 L306.5,140.1 L306.8,140.1 L307.0,141.3 L307.2,140.4 L307.5,139.2 L307.8,139.4 L308.0,138.2 L308.2,138.1 L308.5,137.6 L308.8,138.5 L309.0,136.5 L309.2,138.7 L309.5,136.0 L309.8,136.6 L310.0,138.2 L310.2,135.6 L310.5,135.4 L310.8,134.2 L311.0,135.9 L311.2,133.6 L311.5,134.1 L311.8,133.7 L312.0,133.8 L312.2,135.3 L312.5,135.0 L312.8,136.6 L313.0,135.0 L313.2,135.5 L313.5,133.0 L313.8,134.5 L314.0,133.0 L314.2,131.8 L314.5,132.4 L314.8,130.6 L315.0,130.9 L315.2,133.0 L315.5,132.7 L315.8,134.1 L316.0,133.4 L316.2,133.9 L316.5,133.4 L316.8,130.7 L317.0,132.2 L317.2,131.1 L317.5,129.4 L317.8,129.1 L318.0,129.4 L318.2,130.9 L318.5,129.9 L318.8,130.7 L319.0,130.6 L319.2,130.8 L319.5,130.1 L319.8,128.9 L320.0,131.0 L320.2,129.2 L320.5,127.1 L320.8,127.5 L321.0,129.6 L321.2,129.6 L321.5,128.4 L321.8,128.4 L322.0,129.0 L322.2,128.6 L322.5,129.0 L322.8,129.3 L323.0,127.8 L323.2,129.6 L323.5,126.8 L323.8,126.1 L324.0,127.6 L324.2,126.7 L324.5,127.8 L324.8,126.3 L325.0,127.8 L325.2,126.8 L325.5,128.8 L325.8,127.0 L326.0,129.1 L326.2,126.8 L326.5,127.5 L326.8,126.7 L327.0,128.2 L327.2,126.4 L327.5,127.0 L327.8,127.9 L328.0,125.7 L328.2,127.1 L328.5,128.3 L328.8,126.5 L329.0,126.1 L329.2,127.4 L329.5,127.9 L329.8,127.7 L330.0,126.1 L330.2,125.2 L330.5,124.6 L330.8,125.7 L331.0,125.0 L331.2,127.1 L331.5,128.0 L331.8,128.3 L332.0,126.9 L332.2,129.2 L332.5,128.6 L332.8,127.9 L333.0,127.9 L333.2,127.9 L333.5,126.1 L333.8,127.5 L334.0,126.4 L334.2,126.4 L334.5,128.5 L334.8,126.4 L335.0,127.6 L335.2,128.5 L335.5,128.0 L335.8,127.2 L336.0,128.0 L336.2,125.9 L336.5,126.5 L336.8,126.4 L337.0,125.4 L337.2,125.4 L337.5,127.7 L337.8,126.0 L338.0,129.2 L338.2,127.3 L338.5,129.2 L338.8,128.4 L339.0,127.7 L339.2,128.3 L339.5,125.5 L339.8,126.7 L340.0,127.2 L340.2,127.1 L340.5,125.9 L340.8,125.4 L341.0,128.5 L341.2,128.7 L341.5,126.9 L341.8,128.4 L342.0,126.4 L342.2,126.6 L342.5,128.0 L342.8,124.7 L343.0,126.0 L343.2,126.4 L343.5,126.6 L343.8,127.0 L344.0,125.0 L344.2,127.6 L344.5,127.8 L344.8,127.4 L345.0,126.6 L345.2,128.4 L345.5,126.6 L345.8,127.0 L346.0,125.4 L346.2,125.7 L346.5,127.3 L346.8,125.0 L347.0,126.9 L347.2,125.3 L347.5,128.6 L347.8,128.0 L348.0,127.1 L348.2,128.5 L348.5,128.3 L348.8,128.9 L349.0,128.1 L349.2,128.3 L349.5,127.1 L349.8,128.4 L350.0,128.3 L350.2,127.3 L350.5,125.8 L350.8,127.3 L351.0,125.6 L351.2,126.6 L351.5,124.4 L351.8,125.2 L352.0,125.3 L352.2,127.4 L352.5,126.7 L352.8,127.9 L353.0,126.6 L353.2,126.5 L353.5,126.2 L353.8,125.5 L354.0,125.9" stroke="#ff0a1a" stroke-width="2.4"/>
<path d="M22.6,185.9 L22.9,186.0 L23.1,186.0 L23.4,184.6 L23.6,183.2 L23.9,182.9 L24.1,182.8 L24.4,182.0 L24.6,182.4 L24.9,183.8 L25.1,184.3 L25.4,186.5 L25.6,185.9 L25.9,186.4 L26.1,185.8 L26.4,185.6 L26.6,183.5 L26.9,181.0 L27.1,181.3 L27.4,181.3 L27.6,180.9 L27.9,180.7 L28.1,182.6 L28.4,183.3 L28.6,184.8 L28.9,184.2 L29.1,184.1 L29.4,184.1 L29.6,182.8 L29.9,181.3 L30.1,179.4 L30.4,179.0 L30.6,179.5 L30.9,179.4 L31.1,179.0 L31.4,181.2 L31.6,184.2 L31.9,184.2 L32.1,184.4 L32.4,185.1 L32.6,184.1 L32.9,183.4 L33.1,182.4 L33.4,180.2 L33.6,180.2 L33.9,181.2 L34.1,180.9 L34.4,180.5 L34.6,181.3 L34.9,181.5 L35.1,182.4 L35.4,182.5 L35.6,181.4 L35.9,181.9 L36.1,181.9 L36.4,182.7 L36.6,183.4 L36.9,183.3 L37.1,182.7 L37.4,182.8 L37.6,182.5 L37.9,181.8 L38.1,181.4 L38.4,181.4 L38.6,180.8 L38.9,180.9 L39.1,180.6 L39.4,182.0 L39.6,183.9 L39.9,183.9 L40.1,183.9 L40.4,183.9 L40.6,183.8 L40.9,184.6 L41.1,184.7 L41.4,185.5 L41.6,186.1 L41.9,185.6 L42.1,186.2 L42.4,185.1 L42.6,185.8 L42.9,185.4 L43.1,185.3 L43.4,185.8 L43.6,184.9 L43.9,185.3 L44.1,184.5 L44.4,184.0 L44.6,184.2 L44.9,183.7 L45.1,184.1 L45.4,183.2 L45.6,183.6 L45.9,181.8 L46.1,179.8 L46.4,179.1 L46.6,179.6 L46.9,179.1 L47.1,179.4 L47.4,180.9 L47.6,182.9 L47.9,183.9 L48.1,183.9 L48.4,184.7 L48.6,183.9 L48.9,183.0 L49.1,179.6 L49.4,177.5 L49.6,177.5 L49.9,178.6 L50.1,178.4 L50.4,178.0 L50.6,181.1 L50.9,182.2 L51.1,182.8 L51.4,183.2 L51.6,182.7 L51.9,183.6 L52.1,181.2 L52.4,179.6 L52.6,178.3 L52.9,178.0 L53.1,178.5 L53.4,178.8 L53.6,179.3 L53.9,180.6 L54.1,183.4 L54.4,183.4 L54.6,183.2 L54.9,183.3 L55.1,182.9 L55.4,183.2 L55.6,183.7 L55.9,183.2 L56.1,183.9 L56.4,183.4 L56.6,183.4 L56.9,182.8 L57.1,180.3 L57.4,178.0 L57.6,178.5 L57.9,178.9 L58.1,178.7 L58.4,179.2 L58.6,180.6 L58.9,182.8 L59.1,183.3 L59.4,182.7 L59.6,183.4 L59.9,183.1 L60.1,183.3 L60.4,183.8 L60.6,183.1 L60.9,183.2 L61.1,184.1 L61.4,183.2 L61.6,182.1 L61.9,179.7 L62.1,177.8 L62.4,177.8 L62.6,177.2 L62.9,177.4 L63.1,177.4 L63.4,178.0 L63.6,179.6 L63.9,180.2 L64.1,180.0 L64.3,179.4 L64.6,178.9 L64.8,179.1 L65.1,179.2 L65.3,178.9 L65.6,179.3 L65.8,179.2 L66.1,179.3 L66.3,178.9 L66.6,179.2 L66.8,180.5 L67.1,180.6 L67.3,179.6 L67.6,179.6 L67.8,180.1 L68.1,179.4 L68.3,178.7 L68.6,176.9 L68.8,177.1 L69.1,177.3 L69.3,177.3 L69.6,178.0 L69.8,178.5 L70.1,179.3 L70.3,178.9 L70.6,179.3 L70.8,179.2 L71.1,179.5 L71.3,177.8 L71.6,176.9 L71.8,176.8 L72.1,176.7 L72.3,176.7 L72.6,176.3 L72.8,177.3 L73.1,178.1 L73.3,177.6 L73.6,178.6 L73.8,177.5 L74.1,177.7 L74.3,177.4 L74.6,175.9 L74.8,174.2 L75.1,174.3 L75.3,174.3 L75.6,173.5 L75.8,173.3 L76.1,175.5 L76.3,177.1 L76.6,179.4 L76.8,179.1 L77.1,179.0 L77.3,178.4 L77.6,178.4 L77.8,177.2 L78.1,176.5 L78.3,175.9 L78.6,175.7 L78.8,176.4 L79.1,175.6 L79.3,175.2 L79.6,173.4 L79.8,172.7 L80.1,173.0 L80.3,172.2 L80.6,171.7 L80.8,172.7 L81.1,174.2 L81.3,174.8 L81.6,174.8 L81.8,175.3 L82.1,174.7 L82.3,174.1 L82.6,172.2 L82.8,170.8 L83.1,170.8 L83.3,169.7 L83.6,170.4 L83.8,170.2 L84.1,171.7 L84.3,173.5 L84.6,174.7 L84.8,174.1 L85.1,174.5 L85.3,174.9 L85.6,173.4 L85.8,170.6 L86.1,168.1 L86.3,168.3 L86.6,167.2 L86.8,167.3 L87.1,168.2 L87.3,169.5 L87.6,171.4 L87.8,171.8 L88.1,171.1 L88.3,171.5 L88.6,171.5 L88.8,169.6 L89.1,168.3 L89.3,167.2 L89.6,166.0 L89.8,165.7 L90.1,165.6 L90.3,166.5 L90.6,168.0 L90.8,168.5 L91.1,169.5 L91.3,168.6 L91.6,168.8 L91.8,168.9 L92.1,166.6 L92.3,165.3 L92.6,164.7 L92.8,164.0 L93.1,164.5 L93.3,164.1 L93.6,165.5 L93.8,166.3 L94.1,168.3 L94.3,167.6 L94.6,168.0 L94.8,167.9 L95.1,168.2 L95.3,167.0 L95.6,165.5 L95.8,165.3 L96.1,165.8 L96.3,165.9 L96.6,165.7 L96.8,167.6 L97.1,169.5 L97.3,170.9 L97.6,171.3 L97.8,171.4 L98.1,172.8 L98.3,172.9 L98.6,173.6 L98.8,175.2 L99.1,175.2 L99.3,175.8 L99.6,176.7 L99.8,177.5 L100.1,177.1 L100.3,176.0 L100.6,176.0 L100.8,175.8 L101.1,177.4 L101.3,177.4 L101.6,178.1 L101.8,178.8 L102.1,179.4 L102.3,180.6 L102.6,180.7 L102.8,180.8 L103.1,181.7 L103.3,183.4 L103.6,184.8 L103.8,185.4 L104.1,186.8 L104.3,186.2 L104.6,187.3 L104.8,187.0 L105.1,187.0 L105.3,187.2 L105.6,186.7 L105.8,187.6 L106.1,187.9 L106.3,188.0 L106.6,187.4 L106.8,187.3 L107.1,188.0 L107.3,188.2 L107.6,188.2 L107.8,188.1 L108.1,188.1 L108.3,188.1 L108.6,188.1 L108.8,188.1 L109.1,187.2 L109.3,187.7 L109.6,188.5 L109.8,190.2 L110.1,191.3 L110.3,191.7 L110.6,191.6 L110.8,190.9 L111.1,191.9 L111.3,189.9 L111.6,188.4 L111.8,187.3 L112.1,188.1 L112.3,188.3 L112.6,187.5 L112.8,188.5 L113.1,189.3 L113.3,191.2 L113.6,191.1 L113.8,190.7 L114.1,191.5 L114.3,191.0 L114.6,190.7 L114.8,189.8 L115.1,188.7 L115.3,189.0 L115.6,189.8 L115.8,188.9 L116.1,190.3 L116.3,192.7 L116.6,193.6 L116.8,193.0 L117.1,193.2 L117.3,192.9 L117.6,192.4 L117.8,190.9 L118.1,190.2 L118.3,190.1 L118.6,189.6 L118.8,190.4 L119.1,190.1 L119.3,191.9 L119.6,193.7 L119.8,193.9 L120.1,194.6 L120.3,194.1 L120.6,194.1 L120.8,192.5 L121.1,191.0 L121.3,189.7 L121.6,190.0 L121.8,189.5 L122.1,189.6 L122.3,190.1 L122.6,191.1 L122.8,192.0 L123.1,192.9 L123.3,193.3 L123.6,192.1 L123.8,192.5 L124.1,191.3 L124.3,189.6 L124.6,188.0 L124.8,188.4 L125.1,187.7 L125.3,187.6 L125.6,188.5 L125.8,189.8 L126.1,191.6 L126.3,192.1 L126.6,191.2 L126.8,192.0 L127.1,191.1 L127.3,190.3 L127.6,188.6 L127.8,188.2 L128.1,188.2 L128.3,188.1 L128.6,187.2 L128.8,188.9 L129.1,189.1 L129.3,190.9 L129.6,190.0 L129.8,190.2 L130.1,190.0 L130.3,190.0 L130.6,187.9 L130.8,186.5 L131.1,185.5 L131.3,185.7 L131.6,186.2 L131.8,185.8 L132.1,186.8 L132.3,188.3 L132.6,189.5 L132.8,188.6 L133.1,188.3 L133.3,188.4 L133.6,187.4 L133.8,186.0 L134.1,184.7 L134.3,184.5 L134.6,183.7 L134.8,183.7 L135.1,184.1 L135.3,186.9 L135.6,188.8 L135.8,189.9 L136.1,189.6 L136.3,189.8 L136.6,189.9 L136.8,187.9 L137.1,185.9 L137.3,184.0 L137.6,183.5 L137.8,183.5 L138.1,183.1 L138.3,183.7 L138.6,185.2 L138.8,187.0 L139.1,187.5 L139.3,188.5 L139.6,188.2 L139.8,188.0 L140.1,188.4 L140.3,187.8 L140.6,188.1 L140.8,188.3 L141.1,188.6 L141.3,188.2 L141.6,187.6 L141.8,187.3 L142.1,187.0 L142.3,187.8 L142.6,187.9 L142.8,187.0 L143.1,187.7 L143.3,186.0 L143.6,186.2 L143.8,185.7 L144.1,185.3 L144.3,185.3 L144.6,185.0 L144.8,185.8 L145.1,185.0 L145.3,185.0 L145.6,185.6 L145.8,185.3 L146.1,185.2 L146.3,185.5 L146.6,185.6 L146.8,186.3 L147.1,187.5 L147.3,187.1 L147.6,187.0 L147.8,186.9 L148.1,184.9 L148.3,183.1 L148.6,182.4 L148.8,181.7 L149.1,181.7 L149.3,182.0 L149.6,182.7 L149.8,183.9 L150.1,184.2 L150.3,184.1 L150.6,184.8 L150.8,184.0 L151.1,184.4 L151.3,185.8 L151.6,186.7 L151.8,187.5 L152.1,187.4 L152.3,188.3 L152.6,187.8 L152.8,187.1 L153.1,185.2 L153.3,183.9 L153.6,184.3 L153.8,183.7 L154.1,183.4 L154.3,184.3 L154.6,184.3 L154.8,185.7 L155.1,185.7 L155.3,185.8 L155.6,186.1 L155.8,186.3 L156.1,186.6 L156.3,186.5 L156.6,186.7 L156.8,186.8 L157.1,186.1 L157.3,186.1 L157.6,185.0 L157.8,184.0 L158.1,181.9 L158.3,182.0 L158.6,182.2 L158.8,182.2 L159.1,182.8 L159.3,184.4 L159.6,186.6 L159.8,186.7 L160.1,187.6 L160.3,187.6 L160.6,186.7 L160.8,185.9 L161.1,184.4 L161.3,182.3 L161.6,183.1 L161.8,183.3 L162.1,183.0 L162.3,183.3 L162.6,185.2 L162.8,187.2 L163.1,187.7 L163.3,186.9 L163.6,187.3 L163.8,186.6 L164.1,186.4 L164.3,184.0 L164.6,183.3 L164.8,183.6 L165.1,183.2 L165.3,183.4 L165.6,183.2 L165.8,183.3 L166.1,182.8 L166.3,183.1 L166.6,182.9 L166.8,183.0 L167.1,182.1 L167.3,182.2 L167.6,181.9 L167.8,180.7 L168.1,181.4 L168.3,181.4 L168.6,180.5 L168.8,182.5 L169.1,184.0 L169.3,185.8 L169.6,186.5 L169.8,186.0 L170.1,185.9 L170.3,186.4 L170.6,186.6 L170.8,187.0 L171.1,188.2 L171.3,187.2 L171.6,188.1 L171.8,188.2 L172.1,185.9 L172.3,183.7 L172.6,182.9 L172.8,182.9 L173.1,183.2 L173.3,183.4 L173.6,182.6 L173.8,182.4 L174.1,183.6 L174.3,182.4 L174.6,183.5 L174.8,183.4 L175.1,183.5 L175.3,184.1 L175.6,185.0 L175.8,186.1 L176.1,185.9 L176.3,186.2 L176.6,185.6 L176.8,185.2 L177.1,184.8 L177.3,183.5 L177.6,183.9 L177.8,183.7 L178.1,183.0 L178.3,184.2 L178.6,185.6 L178.8,187.4 L179.1,188.6 L179.3,188.0 L179.6,188.0 L179.8,188.5 L180.1,187.6 L180.3,187.4 L180.6,186.4 L180.8,186.4" stroke="#ff8a00" stroke-width="2.4"/>
<path d="M194.5,184.6 L194.8,182.8 L195.0,184.0 L195.2,181.9 L195.5,182.1 L195.8,182.2 L196.0,183.3 L196.2,182.0 L196.5,182.8 L196.8,184.2 L197.0,184.6 L197.2,183.7 L197.5,182.8 L197.8,184.1 L198.0,184.6 L198.2,184.0 L198.5,184.7 L198.8,183.2 L199.0,183.5 L199.2,183.1 L199.5,182.8 L199.8,184.0 L200.0,184.4 L200.2,182.7 L200.5,184.1 L200.8,182.3 L201.0,182.4 L201.2,183.8 L201.5,183.4 L201.8,183.3 L202.0,182.8 L202.2,182.3 L202.5,182.6 L202.8,182.6 L203.0,183.3 L203.2,182.6 L203.5,182.9 L203.8,181.9 L204.0,183.1 L204.2,183.9 L204.5,183.5 L204.8,183.3 L205.0,183.0 L205.2,185.2 L205.5,185.4 L205.8,183.2 L206.0,185.4 L206.2,185.5 L206.5,182.8 L206.8,182.2 L207.0,183.7 L207.2,182.9 L207.5,181.7 L207.8,183.3 L208.0,184.4 L208.2,184.7 L208.5,183.0 L208.8,183.0 L209.0,184.4 L209.2,184.8 L209.5,185.5 L209.8,184.5 L210.0,184.1 L210.2,184.7 L210.5,183.3 L210.8,182.6 L211.0,182.4 L211.2,182.7 L211.5,183.9 L211.8,182.7 L212.0,181.2 L212.2,183.8 L212.5,183.6 L212.8,181.4 L213.0,183.7 L213.2,182.0 L213.5,181.6 L213.8,182.7 L214.0,183.6 L214.2,182.2 L214.5,182.4 L214.8,183.3 L215.0,181.1 L215.2,182.6 L215.5,181.6 L215.8,180.9 L216.0,183.6 L216.2,184.0 L216.5,183.8 L216.8,183.9 L217.0,183.6 L217.2,184.5 L217.5,182.2 L217.8,181.8 L218.0,181.1 L218.2,181.1 L218.5,182.4 L218.8,182.0 L219.0,182.8 L219.2,183.1 L219.5,184.6 L219.8,184.6 L220.0,182.6 L220.2,182.8 L220.5,184.5 L220.8,185.0 L221.0,184.8 L221.2,182.5 L221.5,184.0 L221.8,182.7 L222.0,183.1 L222.2,184.6 L222.5,183.6 L222.8,183.8 L223.0,183.0 L223.2,183.9 L223.5,182.0 L223.8,182.6 L224.0,184.4 L224.2,184.4 L224.5,182.6 L224.8,183.1 L225.0,183.6 L225.2,184.4 L225.5,182.9 L225.8,183.8 L226.0,182.9 L226.2,181.7 L226.5,181.2 L226.8,181.1 L227.0,181.1 L227.2,182.6 L227.5,183.5 L227.8,184.9 L228.0,183.7 L228.2,183.9 L228.5,182.8 L228.8,184.6 L229.0,182.4 L229.2,180.7 L229.5,181.1 L229.8,182.4 L230.0,181.0 L230.2,183.3 L230.5,182.4 L230.8,183.5 L231.0,183.0 L231.2,183.2 L231.5,182.3 L231.8,183.5 L232.0,183.3 L232.2,183.0 L232.5,182.2 L232.8,182.6 L233.0,182.6 L233.2,180.8 L233.5,180.3 L233.8,183.3 L234.0,182.0 L234.2,181.0 L234.5,183.3 L234.8,183.1 L235.0,182.3 L235.2,180.4 L235.5,182.5 L235.8,181.1 L236.0,179.8 L236.2,180.0 L236.5,179.8 L236.8,181.6 L237.0,181.2 L237.2,180.9 L237.5,179.0 L237.8,179.7 L238.0,179.7 L238.2,179.0 L238.5,178.6 L238.8,179.3 L239.0,179.5 L239.2,180.5 L239.5,180.3 L239.8,179.1 L240.0,178.6 L240.2,178.8 L240.5,179.1 L240.8,178.6 L241.0,179.3 L241.2,178.6 L241.5,177.3 L241.8,177.8 L242.0,178.9 L242.2,179.6 L242.5,180.3 L242.8,180.2 L243.0,180.3 L243.2,179.5 L243.5,177.5 L243.8,177.7 L244.0,176.0 L244.2,178.5 L244.5,177.3 L244.8,175.3 L245.0,177.4 L245.2,176.5 L245.5,177.1 L245.8,174.2 L246.0,175.0 L246.2,174.0 L246.5,177.1 L246.8,175.3 L247.0,177.0 L247.2,176.7 L247.5,176.3 L247.8,175.8 L248.0,174.9 L248.2,175.1 L248.5,173.9 L248.8,173.1 L249.0,174.3 L249.2,174.1 L249.5,173.6 L249.8,174.8 L250.0,173.6 L250.2,174.7 L250.5,176.1 L250.8,176.6 L251.0,176.9 L251.2,178.4 L251.5,177.4 L251.8,179.6 L252.0,179.5 L252.2,179.8 L252.5,178.7 L252.8,178.1 L253.0,180.1 L253.2,177.9 L253.5,179.6 L253.8,177.5 L254.0,177.8 L254.2,178.3 L254.5,178.7 L254.8,176.3 L255.0,177.8 L255.2,177.6 L255.5,176.7 L255.8,175.3 L256.0,176.1 L256.2,178.2 L256.5,177.4 L256.8,177.5 L257.0,177.4 L257.2,176.2 L257.5,178.7 L257.8,177.4 L258.0,177.5 L258.2,178.0 L258.5,177.1 L258.8,176.4 L259.0,178.5 L259.2,175.7 L259.5,175.7 L259.8,176.6 L260.0,176.3 L260.2,177.3 L260.5,176.9 L260.8,179.7 L261.0,180.8 L261.2,180.5 L261.5,182.8 L261.8,183.5 L262.0,183.5 L262.2,182.8 L262.5,182.4 L262.8,185.1 L263.0,185.2 L263.2,184.5 L263.5,184.4 L263.8,185.1 L264.0,184.4 L264.2,184.5 L264.5,184.8 L264.8,184.9 L265.0,185.6 L265.2,184.1 L265.5,185.1 L265.8,186.7 L266.0,188.2 L266.2,187.3 L266.5,186.6 L266.8,188.7 L267.0,188.5 L267.2,186.4 L267.5,188.3 L267.8,187.4 L268.0,186.2 L268.2,187.4 L268.5,186.7 L268.8,188.9 L269.0,188.4 L269.2,187.2 L269.5,188.8 L269.8,189.2 L270.0,190.2 L270.2,190.8 L270.5,189.9 L270.8,189.5 L271.0,189.5 L271.2,188.6 L271.5,190.5 L271.8,190.0 L272.0,190.0 L272.2,191.4 L272.5,190.5 L272.8,191.6 L273.0,190.5 L273.2,190.0 L273.5,190.9 L273.8,191.5 L274.0,188.9 L274.2,188.4 L274.5,188.5 L274.8,189.7 L275.0,188.1 L275.2,188.0 L275.5,188.0 L275.8,187.6 L276.0,187.7 L276.2,186.7 L276.5,185.4 L276.8,186.5 L277.0,184.0 L277.2,184.5 L277.5,183.8 L277.8,182.0 L278.0,182.2 L278.2,183.4 L278.5,182.7 L278.8,181.9 L279.0,179.1 L279.2,180.4 L279.5,178.7 L279.8,177.8 L280.0,177.6 L280.2,179.6 L280.5,179.7 L280.8,178.1 L281.0,179.0 L281.2,176.4 L281.5,175.9 L281.8,177.2 L282.0,178.6 L282.2,177.6 L282.5,177.0 L282.8,179.3 L283.0,178.7 L283.2,177.6 L283.5,178.1 L283.8,178.4 L284.0,177.1 L284.2,178.8 L284.5,179.3 L284.8,178.4 L285.0,179.6 L285.2,179.8 L285.5,180.5 L285.8,180.0 L286.0,181.7 L286.2,182.0 L286.5,178.9 L286.8,180.2 L287.0,177.7 L287.2,176.6 L287.5,177.4 L287.8,176.5 L288.0,176.7 L288.2,176.6 L288.5,177.9 L288.8,176.2 L289.0,177.1 L289.2,176.2 L289.5,175.5 L289.8,174.9 L290.0,172.2 L290.2,174.3 L290.5,173.2 L290.8,171.8 L291.0,172.7 L291.2,175.4 L291.5,175.2 L291.8,174.1 L292.0,175.2 L292.2,178.6 L292.5,177.3 L292.8,179.3 L293.0,181.1 L293.2,180.8 L293.5,182.7 L293.8,183.7 L294.0,182.4 L294.2,184.0 L294.5,184.6 L294.8,184.1 L295.0,182.9 L295.2,183.8 L295.5,183.2 L295.8,184.0 L296.0,184.4 L296.2,185.2 L296.5,186.5 L296.8,185.0 L297.0,187.4 L297.2,187.0 L297.5,187.5 L297.8,185.3 L298.0,185.7 L298.2,186.0 L298.5,187.1 L298.8,186.4 L299.0,186.2 L299.2,186.0 L299.5,188.8 L299.8,189.9 L300.0,189.5 L300.2,189.5 L300.5,188.5 L300.8,191.9 L301.0,192.0 L301.2,191.9 L301.5,192.0 L301.8,193.2 L302.0,194.1 L302.2,192.9 L302.5,192.3 L302.8,192.9 L303.0,192.4 L303.2,193.5 L303.5,194.5 L303.8,193.3 L304.0,193.2 L304.2,191.9 L304.5,193.9 L304.8,191.4 L305.0,193.3 L305.2,191.1 L305.5,193.1 L305.8,191.2 L306.0,193.0 L306.2,192.6 L306.5,191.0 L306.8,192.1 L307.0,191.5 L307.2,192.1 L307.5,189.2 L307.8,190.0 L308.0,188.4 L308.2,190.6 L308.5,188.0 L308.8,189.8 L309.0,188.7 L309.2,188.7 L309.5,187.4 L309.8,186.0 L310.0,187.7 L310.2,185.6 L310.5,186.2 L310.8,187.1 L311.0,187.8 L311.2,186.4 L311.5,187.5 L311.8,186.5 L312.0,186.1 L312.2,187.4 L312.5,185.8 L312.8,187.1 L313.0,186.1 L313.2,185.0 L313.5,186.5 L313.8,186.4 L314.0,185.6 L314.2,185.7 L314.5,185.7 L314.8,185.8 L315.0,187.2 L315.2,186.8 L315.5,183.9 L315.8,184.8 L316.0,183.9 L316.2,185.8 L316.5,184.8 L316.8,184.7 L317.0,185.9 L317.2,186.4 L317.5,183.8 L317.8,184.2 L318.0,183.8 L318.2,186.3 L318.5,184.2 L318.8,183.8 L319.0,183.6 L319.2,183.1 L319.5,183.1 L319.8,183.5 L320.0,184.9 L320.2,183.1 L320.5,181.9 L320.8,182.7 L321.0,182.8 L321.2,183.8 L321.5,183.4 L321.8,182.8 L322.0,182.0 L322.2,181.3 L322.5,181.5 L322.8,181.9 L323.0,183.4 L323.2,181.0 L323.5,182.4 L323.8,183.2 L324.0,181.5 L324.2,182.6 L324.5,183.4 L324.8,182.8 L325.0,182.4 L325.2,184.2 L325.5,183.0 L325.8,183.1 L326.0,182.4 L326.2,183.5 L326.5,181.9 L326.8,182.1 L327.0,181.6 L327.2,181.5 L327.5,180.9 L327.8,181.0 L328.0,181.7 L328.2,181.8 L328.5,180.8 L328.8,182.1 L329.0,182.8 L329.2,182.0 L329.5,181.9 L329.8,182.4 L330.0,181.6 L330.2,180.5 L330.5,180.1 L330.8,180.6 L331.0,181.2 L331.2,181.1 L331.5,181.1 L331.8,183.6 L332.0,183.4 L332.2,181.2 L332.5,182.2 L332.8,183.5 L333.0,182.9 L333.2,180.6 L333.5,180.4 L333.8,180.4 L334.0,179.8 L334.2,182.4 L334.5,183.1 L334.8,181.1 L335.0,183.8 L335.2,182.0 L335.5,182.2 L335.8,183.2 L336.0,181.1 L336.2,182.9 L336.5,180.8 L336.8,180.5 L337.0,181.3 L337.2,180.9 L337.5,181.3 L337.8,180.3 L338.0,181.2 L338.2,182.1 L338.5,181.0 L338.8,181.3 L339.0,180.9 L339.2,180.6 L339.5,182.6 L339.8,181.9 L340.0,182.2 L340.2,181.6 L340.5,181.9 L340.8,181.5 L341.0,182.0 L341.2,182.6 L341.5,181.8 L341.8,181.9 L342.0,181.1 L342.2,183.2 L342.5,181.4 L342.8,182.5 L343.0,182.1 L343.2,181.4 L343.5,182.4 L343.8,182.7 L344.0,182.9 L344.2,180.6 L344.5,181.1 L344.8,182.8 L345.0,181.5 L345.2,181.3 L345.5,181.8 L345.8,181.3 L346.0,184.6 L346.2,182.4 L346.5,183.8 L346.8,182.4 L347.0,183.5 L347.2,181.2 L347.5,180.7 L347.8,181.9 L348.0,180.2 L348.2,181.5 L348.5,181.7 L348.8,182.1 L349.0,182.5 L349.2,182.4 L349.5,182.0 L349.8,181.3 L350.0,182.3 L350.2,181.0 L350.5,181.8 L350.8,182.3 L351.0,182.5 L351.2,182.7 L351.5,183.8 L351.8,184.7 L352.0,183.4 L352.2,184.4 L352.5,183.2 L352.8,183.3 L353.0,183.1 L353.2,182.1 L353.5,183.8 L353.8,181.8 L354.0,181.7" stroke="#ff8a00" stroke-width="2.4"/>
<path d="M22.6,238.1 L22.9,237.6 L23.1,238.4 L23.4,239.1 L23.6,239.6 L23.9,239.1 L24.1,239.4 L24.4,239.3 L24.6,239.1 L24.9,239.2 L25.1,238.8 L25.4,237.7 L25.6,238.3 L25.9,238.2 L26.1,237.5 L26.4,238.2 L26.6,238.8 L26.9,238.5 L27.1,239.0 L27.4,239.0 L27.6,239.0 L27.9,238.4 L28.1,239.0 L28.4,239.0 L28.6,239.1 L28.9,239.1 L29.1,238.6 L29.4,238.9 L29.6,238.8 L29.9,238.3 L30.1,237.0 L30.4,236.8 L30.6,237.4 L30.9,237.0 L31.1,237.3 L31.4,237.6 L31.6,236.9 L31.9,236.7 L32.1,236.9 L32.4,237.0 L32.6,236.5 L32.9,237.1 L33.1,237.4 L33.4,238.4 L33.6,238.6 L33.9,238.1 L34.1,238.0 L34.4,238.0 L34.6,236.9 L34.9,236.1 L35.1,236.0 L35.4,236.1 L35.6,235.6 L35.9,236.3 L36.1,236.5 L36.4,236.7 L36.6,236.8 L36.9,237.4 L37.1,236.8 L37.4,236.7 L37.6,236.4 L37.9,235.8 L38.1,236.1 L38.4,235.4 L38.6,235.4 L38.9,235.9 L39.1,235.7 L39.4,235.6 L39.6,236.3 L39.9,237.0 L40.1,236.4 L40.4,236.7 L40.6,236.0 L40.9,236.4 L41.1,236.0 L41.4,235.6 L41.6,235.4 L41.9,235.1 L42.1,234.7 L42.4,235.3 L42.6,236.2 L42.9,236.3 L43.1,236.6 L43.4,236.8 L43.6,237.0 L43.9,237.1 L44.1,235.8 L44.4,235.4 L44.6,235.6 L44.9,235.4 L45.1,235.5 L45.4,235.7 L45.6,235.5 L45.9,235.3 L46.1,235.1 L46.4,234.6 L46.6,234.8 L46.9,234.3 L47.1,234.9 L47.4,235.4 L47.6,235.9 L47.9,235.9 L48.1,235.8 L48.4,235.8 L48.6,235.3 L48.9,235.8 L49.1,235.0 L49.4,234.5 L49.6,234.6 L49.9,234.7 L50.1,234.3 L50.4,234.7 L50.6,234.5 L50.9,233.7 L51.1,233.3 L51.4,233.9 L51.6,234.1 L51.9,233.2 L52.1,234.3 L52.4,235.0 L52.6,235.4 L52.9,234.6 L53.1,234.5 L53.4,235.3 L53.6,234.1 L53.9,233.5 L54.1,233.3 L54.4,233.0 L54.6,233.3 L54.9,232.7 L55.1,233.4 L55.4,233.2 L55.6,234.3 L55.9,233.8 L56.1,234.1 L56.4,233.6 L56.6,233.9 L56.9,233.5 L57.1,233.4 L57.4,232.6 L57.6,232.1 L57.9,233.0 L58.1,232.8 L58.4,232.9 L58.6,232.4 L58.9,232.8 L59.1,232.6 L59.4,232.5 L59.6,232.3 L59.9,232.7 L60.1,232.0 L60.4,231.6 L60.6,232.0 L60.9,231.6 L61.1,231.2 L61.4,231.6 L61.6,231.3 L61.9,231.8 L62.1,231.8 L62.4,232.0 L62.6,232.0 L62.9,231.8 L63.1,231.6 L63.4,232.0 L63.6,232.0 L63.9,231.3 L64.1,231.1 L64.3,231.0 L64.6,231.8 L64.8,231.3 L65.1,229.8 L65.3,229.9 L65.6,229.1 L65.8,229.3 L66.1,229.1 L66.3,229.6 L66.6,229.3 L66.8,230.1 L67.1,230.5 L67.3,229.8 L67.6,229.8 L67.8,229.9 L68.1,229.7 L68.3,229.0 L68.6,228.5 L68.8,228.2 L69.1,227.9 L69.3,227.8 L69.6,227.5 L69.8,227.5 L70.1,227.1 L70.3,226.7 L70.6,226.9 L70.8,226.0 L71.1,226.3 L71.3,225.0 L71.6,223.8 L71.8,223.8 L72.1,222.6 L72.3,222.6 L72.6,221.9 L72.8,222.8 L73.1,222.7 L73.3,223.1 L73.6,222.3 L73.8,222.4 L74.1,221.9 L74.3,221.3 L74.6,220.6 L74.8,219.0 L75.1,218.4 L75.3,218.3 L75.6,218.1 L75.8,217.2 L76.1,217.7 L76.3,217.5 L76.6,217.9 L76.8,217.7 L77.1,216.6 L77.3,216.9 L77.6,215.5 L77.8,215.6 L78.1,214.2 L78.3,213.7 L78.6,213.6 L78.8,213.1 L79.1,213.0 L79.3,212.6 L79.6,213.4 L79.8,213.4 L80.1,213.4 L80.3,212.2 L80.6,212.3 L80.8,212.2 L81.1,211.8 L81.3,211.0 L81.6,211.2 L81.8,210.6 L82.1,210.4 L82.3,210.6 L82.6,209.1 L82.8,208.5 L83.1,208.4 L83.3,208.2 L83.6,207.8 L83.8,207.8 L84.1,207.7 L84.3,208.1 L84.6,208.4 L84.8,208.0 L85.1,207.8 L85.3,207.3 L85.6,207.3 L85.8,207.0 L86.1,207.2 L86.3,206.6 L86.6,206.4 L86.8,206.4 L87.1,205.8 L87.3,204.6 L87.6,204.2 L87.8,203.1 L88.1,203.2 L88.3,202.7 L88.6,202.0 L88.8,201.7 L89.1,200.4 L89.3,200.2 L89.6,200.2 L89.8,199.5 L90.1,199.0 L90.3,198.8 L90.6,198.8 L90.8,198.6 L91.1,197.9 L91.3,197.0 L91.6,196.3 L91.8,195.6 L92.1,194.7 L92.3,194.2 L92.6,192.7 L92.8,192.2 L93.1,191.7 L93.3,191.6 L93.6,192.1 L93.8,192.6 L94.1,192.8 L94.3,193.0 L94.6,194.1 L94.8,194.3 L95.1,195.1 L95.3,194.5 L95.6,195.4 L95.8,195.4 L96.1,196.4 L96.3,197.0 L96.6,198.0 L96.8,199.7 L97.1,201.1 L97.3,202.2 L97.6,203.6 L97.8,204.4 L98.1,205.5 L98.3,207.1 L98.6,208.2 L98.8,210.0 L99.1,211.8 L99.3,213.4 L99.6,214.1 L99.8,216.3 L100.1,217.3 L100.3,217.8 L100.6,218.5 L100.8,220.6 L101.1,221.8 L101.3,223.9 L101.6,225.7 L101.8,228.3 L102.1,230.3 L102.3,232.2 L102.6,233.9 L102.8,235.4 L103.1,236.3 L103.3,237.8 L103.6,237.9 L103.8,238.9 L104.1,240.3 L104.3,241.5 L104.6,243.5 L104.8,246.3 L105.1,249.0 L105.3,251.2 L105.6,253.0 L105.8,254.8 L106.1,256.4 L106.3,256.5 L106.6,256.6 L106.8,255.9 L107.1,255.9 L107.3,256.2 L107.6,256.4 L107.8,256.1 L108.1,256.4 L108.3,257.1 L108.6,257.5 L108.8,257.3 L109.1,257.7 L109.3,258.0 L109.6,257.6 L109.8,257.7 L110.1,257.8 L110.3,258.1 L110.6,259.1 L110.8,258.4 L111.1,258.8 L111.3,258.8 L111.6,259.3 L111.8,259.0 L112.1,259.8 L112.3,259.8 L112.6,260.3 L112.8,261.1 L113.1,260.8 L113.3,261.5 L113.6,261.6 L113.8,262.0 L114.1,262.7 L114.3,262.5 L114.6,264.2 L114.8,265.0 L115.1,265.2 L115.3,264.8 L115.6,265.7 L115.8,266.0 L116.1,265.8 L116.3,264.8 L116.6,265.3 L116.8,265.6 L117.1,265.1 L117.3,265.6 L117.6,265.8 L117.8,267.3 L118.1,268.1 L118.3,268.4 L118.6,268.1 L118.8,268.2 L119.1,268.2 L119.3,267.7 L119.6,267.6 L119.8,267.1 L120.1,266.7 L120.3,266.8 L120.6,266.2 L120.8,267.1 L121.1,267.5 L121.3,267.5 L121.6,267.7 L121.8,267.5 L122.1,266.9 L122.3,266.3 L122.6,265.6 L122.8,265.0 L123.1,264.7 L123.3,264.7 L123.6,265.0 L123.8,264.1 L124.1,265.1 L124.3,265.2 L124.6,265.6 L124.8,265.0 L125.1,264.4 L125.3,265.1 L125.6,264.1 L125.8,263.4 L126.1,263.4 L126.3,263.1 L126.6,262.5 L126.8,262.4 L127.1,262.9 L127.3,262.7 L127.6,263.5 L127.8,263.1 L128.1,263.6 L128.3,262.7 L128.6,263.0 L128.8,262.2 L129.1,262.4 L129.3,262.3 L129.6,261.4 L129.8,261.4 L130.1,261.7 L130.3,261.3 L130.6,260.3 L130.8,259.9 L131.1,259.4 L131.3,259.7 L131.6,258.9 L131.8,259.2 L132.1,259.5 L132.3,260.0 L132.6,259.9 L132.8,260.0 L133.1,259.9 L133.3,259.4 L133.6,258.7 L133.8,259.0 L134.1,258.2 L134.3,257.5 L134.6,257.8 L134.8,257.2 L135.1,257.3 L135.3,257.5 L135.6,257.0 L135.8,256.7 L136.1,256.6 L136.3,256.2 L136.6,256.2 L136.8,256.2 L137.1,256.3 L137.3,256.3 L137.6,256.5 L137.8,256.1 L138.1,256.5 L138.3,256.3 L138.6,255.0 L138.8,254.6 L139.1,254.2 L139.3,253.6 L139.6,253.5 L139.8,254.1 L140.1,253.5 L140.3,253.7 L140.6,252.8 L140.8,253.2 L141.1,253.3 L141.3,253.1 L141.6,252.1 L141.8,252.5 L142.1,252.3 L142.3,252.5 L142.6,251.7 L142.8,251.7 L143.1,252.2 L143.3,251.9 L143.6,252.0 L143.8,252.5 L144.1,251.7 L144.3,251.3 L144.6,251.5 L144.8,251.4 L145.1,251.7 L145.3,252.5 L145.6,252.7 L145.8,252.2 L146.1,252.1 L146.3,251.4 L146.6,250.8 L146.8,250.1 L147.1,249.6 L147.3,249.6 L147.6,249.2 L147.8,248.8 L148.1,249.7 L148.3,250.2 L148.6,250.2 L148.8,250.5 L149.1,250.6 L149.3,249.8 L149.6,250.0 L149.8,250.0 L150.1,249.4 L150.3,249.1 L150.6,249.1 L150.8,249.2 L151.1,249.2 L151.3,248.3 L151.6,247.1 L151.8,247.4 L152.1,247.4 L152.3,246.5 L152.6,246.6 L152.8,246.7 L153.1,247.8 L153.3,248.2 L153.6,247.3 L153.8,247.5 L154.1,247.3 L154.3,247.5 L154.6,247.9 L154.8,247.0 L155.1,247.0 L155.3,247.2 L155.6,247.2 L155.8,247.4 L156.1,246.9 L156.3,246.4 L156.6,246.5 L156.8,247.1 L157.1,246.8 L157.3,246.1 L157.6,246.8 L157.8,246.5 L158.1,247.1 L158.3,246.3 L158.6,247.1 L158.8,246.4 L159.1,246.6 L159.3,246.5 L159.6,246.0 L159.8,245.4 L160.1,245.4 L160.3,245.5 L160.6,245.2 L160.8,245.5 L161.1,245.7 L161.3,246.2 L161.6,246.0 L161.8,246.2 L162.1,245.9 L162.3,245.5 L162.6,245.3 L162.8,245.3 L163.1,244.7 L163.3,244.8 L163.6,245.1 L163.8,244.7 L164.1,245.4 L164.3,245.8 L164.6,245.4 L164.8,245.7 L165.1,245.2 L165.3,245.1 L165.6,245.4 L165.8,245.8 L166.1,246.2 L166.3,245.4 L166.6,246.0 L166.8,245.7 L167.1,245.3 L167.3,245.7 L167.6,244.9 L167.8,244.2 L168.1,244.9 L168.3,244.0 L168.6,244.0 L168.8,244.5 L169.1,245.5 L169.3,244.9 L169.6,245.8 L169.8,245.4 L170.1,244.8 L170.3,245.2 L170.6,244.7 L170.8,244.4 L171.1,244.4 L171.3,244.3 L171.6,244.6 L171.8,243.7 L172.1,244.5 L172.3,244.3 L172.6,244.8 L172.8,244.9 L173.1,245.0 L173.3,244.2 L173.6,244.1 L173.8,243.9 L174.1,243.3 L174.3,242.7 L174.6,243.2 L174.8,242.6 L175.1,242.6 L175.3,243.6 L175.6,244.0 L175.8,244.2 L176.1,244.2 L176.3,244.2 L176.6,243.8 L176.8,243.3 L177.1,243.3 L177.3,242.6 L177.6,242.7 L177.8,242.8 L178.1,242.2 L178.3,242.3 L178.6,243.0 L178.8,243.6 L179.1,244.3 L179.3,243.8 L179.6,243.8 L179.8,244.0 L180.1,243.5 L180.3,243.4 L180.6,244.0 L180.8,244.0" stroke="#00e010" stroke-width="2.4"/>
<path d="M194.5,237.7 L194.8,238.5 L195.0,238.7 L195.2,238.5 L195.5,238.4 L195.8,239.2 L196.0,238.2 L196.2,239.0 L196.5,237.9 L196.8,237.9 L197.0,238.1 L197.2,237.8 L197.5,237.3 L197.8,237.4 L198.0,237.8 L198.2,237.8 L198.5,237.7 L198.8,237.9 L199.0,236.6 L199.2,236.9 L199.5,237.6 L199.8,237.9 L200.0,238.3 L200.2,238.2 L200.5,239.2 L200.8,238.8 L201.0,238.1 L201.2,239.3 L201.5,238.4 L201.8,237.5 L202.0,237.5 L202.2,237.5 L202.5,237.2 L202.8,238.6 L203.0,237.8 L203.2,238.3 L203.5,238.7 L203.8,239.4 L204.0,238.7 L204.2,238.4 L204.5,238.5 L204.8,238.1 L205.0,238.4 L205.2,238.3 L205.5,237.2 L205.8,237.0 L206.0,238.4 L206.2,238.1 L206.5,238.9 L206.8,238.2 L207.0,238.1 L207.2,239.3 L207.5,238.0 L207.8,239.2 L208.0,238.9 L208.2,238.6 L208.5,237.8 L208.8,237.5 L209.0,237.2 L209.2,237.9 L209.5,239.1 L209.8,238.7 L210.0,239.6 L210.2,239.0 L210.5,239.9 L210.8,240.2 L211.0,239.4 L211.2,239.2 L211.5,238.3 L211.8,238.1 L212.0,237.7 L212.2,238.3 L212.5,239.1 L212.8,239.3 L213.0,239.7 L213.2,239.7 L213.5,239.9 L213.8,240.1 L214.0,239.3 L214.2,240.4 L214.5,239.6 L214.8,239.7 L215.0,239.3 L215.2,239.9 L215.5,240.3 L215.8,239.8 L216.0,239.5 L216.2,239.2 L216.5,239.3 L216.8,239.2 L217.0,238.6 L217.2,238.4 L217.5,239.3 L217.8,239.2 L218.0,240.1 L218.2,239.1 L218.5,239.2 L218.8,239.9 L219.0,239.7 L219.2,238.9 L219.5,238.7 L219.8,238.5 L220.0,239.2 L220.2,238.0 L220.5,238.2 L220.8,239.3 L221.0,239.1 L221.2,240.2 L221.5,239.9 L221.8,240.5 L222.0,240.5 L222.2,239.5 L222.5,238.9 L222.8,238.2 L223.0,238.7 L223.2,238.7 L223.5,239.1 L223.8,239.2 L224.0,239.2 L224.2,239.2 L224.5,239.1 L224.8,238.8 L225.0,238.4 L225.2,239.3 L225.5,239.4 L225.8,238.5 L226.0,238.8 L226.2,239.3 L226.5,238.8 L226.8,239.2 L227.0,239.8 L227.2,238.8 L227.5,239.1 L227.8,239.0 L228.0,238.6 L228.2,238.5 L228.5,238.6 L228.8,238.0 L229.0,238.3 L229.2,239.4 L229.5,238.2 L229.8,238.2 L230.0,238.2 L230.2,238.4 L230.5,237.7 L230.8,236.8 L231.0,236.8 L231.2,235.8 L231.5,236.3 L231.8,234.9 L232.0,235.1 L232.2,235.2 L232.5,235.3 L232.8,234.7 L233.0,235.7 L233.2,234.6 L233.5,234.5 L233.8,233.0 L234.0,233.0 L234.2,232.6 L234.5,231.8 L234.8,232.4 L235.0,232.5 L235.2,233.1 L235.5,233.4 L235.8,233.6 L236.0,233.1 L236.2,233.1 L236.5,232.5 L236.8,232.0 L237.0,231.0 L237.2,230.8 L237.5,230.2 L237.8,230.3 L238.0,230.6 L238.2,230.2 L238.5,230.3 L238.8,230.5 L239.0,230.9 L239.2,230.8 L239.5,230.9 L239.8,229.8 L240.0,229.5 L240.2,229.1 L240.5,228.9 L240.8,228.3 L241.0,227.6 L241.2,228.2 L241.5,227.3 L241.8,228.2 L242.0,229.2 L242.2,228.8 L242.5,228.5 L242.8,227.1 L243.0,226.4 L243.2,225.8 L243.5,226.2 L243.8,225.9 L244.0,225.6 L244.2,224.4 L244.5,224.5 L244.8,224.3 L245.0,222.8 L245.2,223.2 L245.5,223.1 L245.8,222.0 L246.0,221.6 L246.2,220.2 L246.5,219.7 L246.8,218.9 L247.0,218.9 L247.2,219.0 L247.5,218.0 L247.8,217.5 L248.0,217.1 L248.2,216.9 L248.5,217.5 L248.8,217.4 L249.0,217.1 L249.2,216.7 L249.5,218.1 L249.8,217.4 L250.0,217.2 L250.2,217.6 L250.5,218.1 L250.8,218.7 L251.0,219.4 L251.2,219.8 L251.5,220.6 L251.8,222.0 L252.0,222.8 L252.2,222.8 L252.5,223.6 L252.8,223.4 L253.0,224.6 L253.2,224.8 L253.5,226.2 L253.8,225.5 L254.0,226.0 L254.2,226.9 L254.5,225.3 L254.8,225.2 L255.0,225.1 L255.2,224.6 L255.5,224.2 L255.8,224.3 L256.0,222.3 L256.2,222.8 L256.5,221.7 L256.8,221.0 L257.0,220.1 L257.2,219.9 L257.5,220.5 L257.8,220.3 L258.0,220.1 L258.2,218.8 L258.5,217.7 L258.8,217.3 L259.0,217.6 L259.2,218.1 L259.5,218.6 L259.8,220.0 L260.0,220.4 L260.2,222.0 L260.5,222.3 L260.8,224.4 L261.0,225.5 L261.2,226.4 L261.5,229.8 L261.8,231.9 L262.0,233.8 L262.2,235.9 L262.5,238.6 L262.8,240.4 L263.0,243.4 L263.2,244.3 L263.5,246.7 L263.8,247.3 L264.0,248.9 L264.2,249.6 L264.5,251.8 L264.8,253.9 L265.0,255.0 L265.2,255.1 L265.5,256.5 L265.8,256.7 L266.0,256.8 L266.2,255.6 L266.5,255.2 L266.8,254.2 L267.0,253.8 L267.2,253.9 L267.5,253.7 L267.8,253.2 L268.0,253.8 L268.2,254.3 L268.5,254.5 L268.8,255.3 L269.0,257.2 L269.2,256.9 L269.5,257.9 L269.8,259.8 L270.0,260.4 L270.2,261.3 L270.5,261.9 L270.8,262.3 L271.0,264.0 L271.2,264.9 L271.5,265.5 L271.8,266.8 L272.0,268.3 L272.2,269.9 L272.5,270.4 L272.8,271.1 L273.0,271.8 L273.2,272.7 L273.5,272.9 L273.8,272.9 L274.0,271.9 L274.2,272.2 L274.5,271.2 L274.8,270.0 L275.0,268.9 L275.2,268.3 L275.5,266.3 L275.8,263.9 L276.0,262.1 L276.2,260.7 L276.5,259.1 L276.8,255.5 L277.0,253.1 L277.2,250.8 L277.5,249.3 L277.8,247.3 L278.0,245.1 L278.2,243.9 L278.5,241.1 L278.8,239.2 L279.0,236.7 L279.2,234.1 L279.5,231.2 L279.8,229.5 L280.0,226.9 L280.2,224.7 L280.5,221.9 L280.8,219.6 L281.0,217.9 L281.2,216.8 L281.5,216.3 L281.8,216.0 L282.0,215.6 L282.2,216.0 L282.5,216.6 L282.8,216.9 L283.0,216.2 L283.2,216.0 L283.5,215.9 L283.8,216.8 L284.0,216.3 L284.2,217.8 L284.5,218.6 L284.8,220.3 L285.0,221.2 L285.2,222.9 L285.5,224.7 L285.8,224.4 L286.0,225.4 L286.2,225.7 L286.5,225.7 L286.8,224.5 L287.0,224.0 L287.2,224.1 L287.5,223.3 L287.8,222.8 L288.0,223.0 L288.2,221.8 L288.5,220.1 L288.8,218.5 L289.0,216.3 L289.2,213.8 L289.5,211.9 L289.8,211.1 L290.0,210.2 L290.2,210.1 L290.5,210.7 L290.8,210.4 L291.0,210.7 L291.2,211.4 L291.5,211.8 L291.8,213.1 L292.0,214.8 L292.2,216.1 L292.5,219.8 L292.8,221.8 L293.0,224.7 L293.2,226.5 L293.5,228.2 L293.8,230.9 L294.0,233.3 L294.2,235.1 L294.5,239.2 L294.8,240.6 L295.0,242.6 L295.2,243.5 L295.5,245.5 L295.8,246.4 L296.0,247.9 L296.2,248.0 L296.5,248.7 L296.8,248.6 L297.0,249.4 L297.2,249.6 L297.5,249.6 L297.8,250.6 L298.0,251.2 L298.2,251.7 L298.5,251.4 L298.8,251.8 L299.0,252.6 L299.2,253.7 L299.5,253.5 L299.8,255.4 L300.0,256.6 L300.2,256.7 L300.5,258.4 L300.8,259.4 L301.0,261.6 L301.2,263.5 L301.5,264.6 L301.8,264.4 L302.0,265.6 L302.2,267.9 L302.5,267.6 L302.8,269.7 L303.0,269.8 L303.2,270.8 L303.5,271.4 L303.8,270.3 L304.0,270.9 L304.2,270.6 L304.5,270.9 L304.8,270.5 L305.0,270.7 L305.2,271.0 L305.5,270.1 L305.8,270.0 L306.0,269.1 L306.2,269.3 L306.5,267.8 L306.8,267.4 L307.0,265.3 L307.2,264.7 L307.5,262.6 L307.8,262.5 L308.0,260.9 L308.2,260.2 L308.5,260.1 L308.8,260.9 L309.0,261.0 L309.2,260.0 L309.5,259.8 L309.8,260.0 L310.0,259.0 L310.2,259.4 L310.5,258.5 L310.8,256.4 L311.0,255.6 L311.2,255.7 L311.5,255.3 L311.8,254.8 L312.0,255.2 L312.2,256.0 L312.5,254.7 L312.8,255.5 L313.0,254.7 L313.2,253.9 L313.5,252.9 L313.8,251.9 L314.0,251.1 L314.2,250.4 L314.5,250.6 L314.8,250.1 L315.0,249.4 L315.2,250.0 L315.5,249.7 L315.8,248.1 L316.0,248.3 L316.2,247.1 L316.5,246.2 L316.8,247.0 L317.0,245.1 L317.2,244.2 L317.5,243.5 L317.8,243.9 L318.0,242.0 L318.2,242.1 L318.5,241.8 L318.8,241.0 L319.0,239.7 L319.2,239.4 L319.5,238.0 L319.8,239.1 L320.0,237.8 L320.2,239.0 L320.5,239.2 L320.8,238.5 L321.0,238.5 L321.2,238.9 L321.5,239.1 L321.8,239.3 L322.0,238.6 L322.2,239.3 L322.5,239.2 L322.8,239.3 L323.0,238.7 L323.2,240.1 L323.5,240.7 L323.8,241.2 L324.0,241.1 L324.2,240.9 L324.5,240.4 L324.8,240.0 L325.0,239.9 L325.2,238.9 L325.5,239.5 L325.8,238.8 L326.0,238.9 L326.2,240.3 L326.5,239.3 L326.8,240.1 L327.0,240.0 L327.2,239.6 L327.5,240.2 L327.8,239.9 L328.0,239.3 L328.2,240.2 L328.5,241.0 L328.8,240.6 L329.0,240.5 L329.2,240.6 L329.5,240.4 L329.8,240.4 L330.0,240.0 L330.2,239.8 L330.5,239.7 L330.8,239.9 L331.0,239.3 L331.2,240.5 L331.5,240.3 L331.8,241.3 L332.0,241.1 L332.2,240.8 L332.5,240.2 L332.8,240.7 L333.0,239.4 L333.2,239.1 L333.5,239.9 L333.8,239.6 L334.0,239.1 L334.2,240.3 L334.5,239.5 L334.8,241.2 L335.0,241.5 L335.2,240.4 L335.5,241.6 L335.8,240.3 L336.0,240.4 L336.2,240.8 L336.5,241.5 L336.8,240.4 L337.0,239.9 L337.2,240.8 L337.5,240.2 L337.8,240.7 L338.0,239.1 L338.2,239.8 L338.5,238.8 L338.8,239.8 L339.0,239.1 L339.2,240.5 L339.5,239.7 L339.8,240.3 L340.0,240.7 L340.2,239.7 L340.5,240.0 L340.8,240.6 L341.0,240.0 L341.2,239.7 L341.5,239.7 L341.8,239.5 L342.0,239.1 L342.2,240.1 L342.5,239.3 L342.8,240.3 L343.0,240.1 L343.2,239.7 L343.5,239.2 L343.8,239.2 L344.0,239.6 L344.2,240.6 L344.5,240.5 L344.8,239.7 L345.0,240.2 L345.2,239.8 L345.5,239.7 L345.8,240.4 L346.0,239.9 L346.2,240.2 L346.5,239.9 L346.8,240.6 L347.0,239.2 L347.2,240.3 L347.5,240.0 L347.8,240.1 L348.0,241.2 L348.2,240.2 L348.5,241.4 L348.8,239.9 L349.0,239.4 L349.2,239.6 L349.5,239.0 L349.8,239.8 L350.0,239.4 L350.2,240.2 L350.5,240.2 L350.8,240.3 L351.0,240.4 L351.2,241.0 L351.5,240.2 L351.8,240.6 L352.0,240.7 L352.2,240.5 L352.5,240.5 L352.8,240.6 L353.0,240.0 L353.2,239.8 L353.5,240.1 L353.8,240.1 L354.0,239.7" stroke="#00e010" stroke-width="2.4"/>
</g>
<g stroke="#000" stroke-width="1.5" fill="none" stroke-linecap="butt">
<path d="M22.6,283.25 V33.75 H184.3 M192.0,33.75 H354.6 V282.5 H192.0 M184.3,282.5 H22.6"/>
<path d="M182.3,41.55 L188.3,25.95 M188.0,41.55 L194.0,25.95" stroke-width="1.6"/>
<path d="M182.3,290.3 L188.3,274.7 M188.0,290.3 L194.0,274.7" stroke-width="1.6"/>
<path d="M24.8,33.75 V29.55 M30.75,33.75 V29.55 M36.85,33.75 V29.55 M50.1,33.75 V29.55 M57.5,33.75 V29.55 M64.9,33.75 V29.55 M73.0,33.75 V29.55 M88.7,33.75 V29.55 M97.5,33.75 V29.55 M106.9,33.75 V29.55 M116.7,33.75 V29.55 M137.5,33.75 V29.55 M149.1,33.75 V29.55 M161.5,33.75 V29.55 M173.8,33.75 V29.55 M214.2,33.75 V29.55 M237.7,33.75 V29.55 M261.3,33.75 V29.55 M308.1,33.75 V29.55 M331.5,33.75 V29.55 M43.5,33.75 V25.35 M81.1,33.75 V25.35 M127.4,33.75 V25.35 M285.0,33.75 V25.35 "/>
<path d="M22.2,282.5 V286.7 M34.8,282.5 V286.7 M47.3,282.5 V286.7 M72.5,282.5 V286.7 M85.0,282.5 V286.7 M97.6,282.5 V286.7 M122.8,282.5 V286.7 M135.3,282.5 V286.7 M147.9,282.5 V286.7 M205.2,282.5 V286.7 M220.2,282.5 V286.7 M250.2,282.5 V286.7 M265.2,282.5 V286.7 M280.2,282.5 V286.7 M295.2,282.5 V286.7 M325.2,282.5 V286.7 M340.2,282.5 V286.7 M354.6,282.5 V286.7 M59.9,282.5 V290.7 M110.2,282.5 V290.7 M160.5,282.5 V290.7 M235.2,282.5 V290.7 M310.2,282.5 V290.7 "/>
</g>
<defs><pattern id="hp0" width="8.3" height="8.3" patternUnits="userSpaceOnUse" x="95.35" y="352.75"><path d="M-1,-1 L9.3,9.3 M-1,9.3 L9.3,-1" stroke="#000" stroke-width="1.25" fill="none"/></pattern></defs>
<rect x="94.50" y="352.3" width="26.05" height="17.40" fill="url(#hp0)"/>
<path d="M22.6,352.3 H120.55 V369.7 H22.6" fill="none" stroke="#000" stroke-width="2.8" stroke-linejoin="miter" stroke-linecap="butt"/>
<line x1="94.50" y1="352.3" x2="94.50" y2="369.7" stroke="#000" stroke-width="2.8"/>
<defs><pattern id="hp1" width="8.3" height="8.3" patternUnits="userSpaceOnUse" x="185.6" y="377.4"><path d="M-1,-1 L9.3,9.3 M-1,9.3 L9.3,-1" stroke="#ff0a1a" stroke-width="1.25" fill="none"/></pattern></defs>
<rect x="184.90" y="377.15" width="57.95" height="17.80" fill="url(#hp1)"/>
<path d="M22.6,377.15 H242.85 V394.95 H22.6" fill="none" stroke="#ff0a1a" stroke-width="2.8" stroke-linejoin="miter" stroke-linecap="butt"/>
<line x1="184.90" y1="377.15" x2="184.90" y2="394.95" stroke="#ff0a1a" stroke-width="2.8"/>
<defs><pattern id="hp2" width="8.3" height="8.3" patternUnits="userSpaceOnUse" x="219.2" y="398.3"><path d="M-1,-1 L9.3,9.3 M-1,9.3 L9.3,-1" stroke="#ff8a00" stroke-width="1.25" fill="none"/></pattern></defs>
<rect x="216.40" y="402.7" width="68.10" height="17.80" fill="url(#hp2)"/>
<path d="M22.6,402.7 H284.50 V420.5 H22.6" fill="none" stroke="#ff8a00" stroke-width="2.8" stroke-linejoin="miter" stroke-linecap="butt"/>
<line x1="216.40" y1="402.7" x2="216.40" y2="420.5" stroke="#ff8a00" stroke-width="2.8"/>
<g stroke="#000" stroke-width="1.5" fill="none">
<rect x="22.6" y="345.0" width="332.0" height="82.5"/>
<path d="M22.5,427.5 V435.3 M107.5,427.5 V435.3 M192.5,427.5 V435.3 M277.5,427.5 V435.3 M65.0,427.5 V432.0 M150.0,427.5 V432.0 M235.0,427.5 V432.0 M320.0,427.5 V432.0 "/>
</g>
<text x="190.6" y="13.5" font-size="16" text-anchor="middle" fill="#000" stroke="#000" stroke-width="0.3" font-family="Liberation Sans, Arial, sans-serif" >g-factor</text>
<text x="44.8" y="22.6" font-size="14.2" text-anchor="middle" fill="#000" stroke="#000" stroke-width="0.1" font-family="Liberation Sans, Arial, sans-serif" textLength="7.56" lengthAdjust="spacingAndGlyphs">5</text>
<text x="81.1" y="22.6" font-size="14.2" text-anchor="middle" fill="#000" stroke="#000" stroke-width="0.1" font-family="Liberation Sans, Arial, sans-serif" textLength="18.90" lengthAdjust="spacingAndGlyphs">4.5</text>
<text x="127.7" y="22.6" font-size="14.2" text-anchor="middle" fill="#000" stroke="#000" stroke-width="0.1" font-family="Liberation Sans, Arial, sans-serif" textLength="7.56" lengthAdjust="spacingAndGlyphs">4</text>
<text x="285.6" y="22.6" font-size="14.2" text-anchor="middle" fill="#000" stroke="#000" stroke-width="0.1" font-family="Liberation Sans, Arial, sans-serif" textLength="26.47" lengthAdjust="spacingAndGlyphs">2.00</text>
<text x="60.45" y="306.6" font-size="14.2" text-anchor="middle" fill="#000" stroke="#000" stroke-width="0.1" font-family="Liberation Sans, Arial, sans-serif" textLength="22.68" lengthAdjust="spacingAndGlyphs">140</text>
<text x="110.7" y="306.6" font-size="14.2" text-anchor="middle" fill="#000" stroke="#000" stroke-width="0.1" font-family="Liberation Sans, Arial, sans-serif" textLength="22.68" lengthAdjust="spacingAndGlyphs">160</text>
<text x="160.3" y="306.6" font-size="14.2" text-anchor="middle" fill="#000" stroke="#000" stroke-width="0.1" font-family="Liberation Sans, Arial, sans-serif" textLength="22.68" lengthAdjust="spacingAndGlyphs">180</text>
<text x="235.5" y="306.6" font-size="14.2" text-anchor="middle" fill="#000" stroke="#000" stroke-width="0.1" font-family="Liberation Sans, Arial, sans-serif" textLength="22.68" lengthAdjust="spacingAndGlyphs">330</text>
<text x="310.4" y="306.6" font-size="14.2" text-anchor="middle" fill="#000" stroke="#000" stroke-width="0.1" font-family="Liberation Sans, Arial, sans-serif" textLength="22.68" lengthAdjust="spacingAndGlyphs">335</text>
<text x="160.8" y="325.9" font-size="16.3" stroke="#000" stroke-width="0.25" font-family="Liberation Sans, Arial, sans-serif"><tspan font-style="italic">B</tspan><tspan font-size="11.5" dy="6">o</tspan><tspan dy="-6" dx="-1.2"> (mT)</tspan></text>
<text transform="translate(13.5,157.3) rotate(-90)" font-size="16.2" text-anchor="middle" stroke="#000" stroke-width="0.3" font-family="Liberation Sans, Arial, sans-serif">EPR Amplitude</text>
<text x="341.9" y="60.1" font-size="26.5" text-anchor="middle" fill="#000" stroke="#000" stroke-width="0.25" font-family="Liberation Sans, Arial, sans-serif" >a</text>
<text x="342.2" y="372.6" font-size="27" text-anchor="middle" fill="#000" stroke="#000" stroke-width="0.25" font-family="Liberation Sans, Arial, sans-serif" >b</text>
<text x="187.8" y="135.0" font-size="22.3" text-anchor="middle" fill="#000" stroke="#000" stroke-width="0.25" font-family="Liberation Sans, Arial, sans-serif" >2</text>
<text x="187.8" y="189.6" font-size="22.3" text-anchor="middle" fill="#000" stroke="#000" stroke-width="0.25" font-family="Liberation Sans, Arial, sans-serif" >3</text>
<text x="187.8" y="249.6" font-size="22.3" text-anchor="middle" fill="#000" stroke="#000" stroke-width="0.25" font-family="Liberation Sans, Arial, sans-serif" >4</text>
<text x="187.9" y="76.6" font-size="20.6" text-anchor="middle" fill="#000" stroke="#000" stroke-width="0.7" font-family="NanumGothic, Liberation Sans, sans-serif">1</text>
<text x="125.6" y="367.4" font-size="20.4" text-anchor="start" fill="#000" font-family="Liberation Sans, Arial, sans-serif" font-weight="bold" textLength="80.3" lengthAdjust="spacingAndGlyphs">Untreated</text>
<text x="249.2" y="393.6" font-size="21.2" text-anchor="start" fill="#ff0a1a" font-family="Liberation Sans, Arial, sans-serif" font-weight="bold" textLength="36.4" lengthAdjust="spacingAndGlyphs">DFO</text>
<text x="290.0" y="417.6" font-size="22.2" text-anchor="start" fill="#ff8a00" font-family="Liberation Sans, Arial, sans-serif" font-weight="bold" textLength="59.2" lengthAdjust="spacingAndGlyphs">Sirtinol</text>
<text x="22.5" y="451.4" font-size="14.2" text-anchor="middle" fill="#000" stroke="#000" stroke-width="0.1" font-family="Liberation Sans, Arial, sans-serif" textLength="7.56" lengthAdjust="spacingAndGlyphs">0</text>
<text x="192.5" y="451.4" font-size="14.2" text-anchor="middle" fill="#000" stroke="#000" stroke-width="0.1" font-family="Liberation Sans, Arial, sans-serif" textLength="7.56" lengthAdjust="spacingAndGlyphs">2</text>
<text x="277.5" y="451.4" font-size="14.2" text-anchor="middle" fill="#000" stroke="#000" stroke-width="0.1" font-family="Liberation Sans, Arial, sans-serif" textLength="7.56" lengthAdjust="spacingAndGlyphs">3</text>
<text x="107.5" y="451.4" font-size="13.4" text-anchor="middle" fill="#000" stroke="#000" stroke-width="0.55" font-family="NanumGothic, Liberation Sans, sans-serif">1</text>
<text x="130.5" y="470.2" font-size="15.5" font-family="Liberation Sans, Arial, sans-serif" textLength="7.8" lengthAdjust="spacingAndGlyphs">∫∫</text>
<text x="142.6" y="469.6" font-size="15.3" stroke="#000" stroke-width="0.25" font-family="Liberation Sans, Arial, sans-serif" textLength="106.8" lengthAdjust="spacingAndGlyphs">(EPR at g=4.3)</text>
</svg>
</body></html>
